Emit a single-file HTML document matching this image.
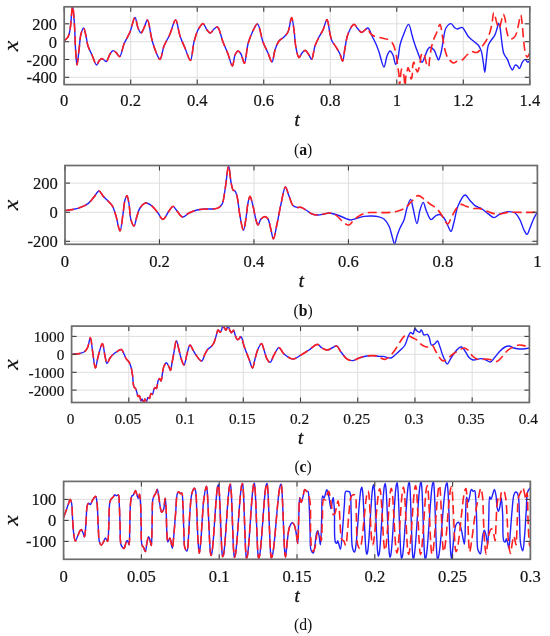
<!DOCTYPE html>
<html><head><meta charset="utf-8"><style>
html,body{margin:0;padding:0;background:#fff;}
body{width:550px;height:636px;overflow:hidden;}
svg{display:block;}
.tk{font-family:"Liberation Serif",serif;fill:#111;stroke:#111;stroke-width:0.18px;}
.lab{font-family:"Liberation Serif",serif;font-style:italic;font-size:18.5px;fill:#111;stroke:#111;stroke-width:0.35px;}
.labx{font-family:"Liberation Serif",serif;font-style:italic;font-size:20px;fill:#111;stroke:#111;stroke-width:0.18px;}
.cap{font-family:"Liberation Serif",serif;font-size:15.7px;fill:#111;}
</style></head><body>
<svg width="550" height="636" viewBox="0 0 550 636">
<rect width="550" height="636" fill="#fff"/>
<line x1="130.71" y1="6.8" x2="130.71" y2="84.6" stroke="#dedede" stroke-width="1"/>
<line x1="197.23" y1="6.8" x2="197.23" y2="84.6" stroke="#dedede" stroke-width="1"/>
<line x1="263.74" y1="6.8" x2="263.74" y2="84.6" stroke="#dedede" stroke-width="1"/>
<line x1="330.26" y1="6.8" x2="330.26" y2="84.6" stroke="#dedede" stroke-width="1"/>
<line x1="396.77" y1="6.8" x2="396.77" y2="84.6" stroke="#dedede" stroke-width="1"/>
<line x1="463.29" y1="6.8" x2="463.29" y2="84.6" stroke="#dedede" stroke-width="1"/>
<line x1="64.2" y1="23.8" x2="529.8" y2="23.8" stroke="#dedede" stroke-width="1"/>
<line x1="64.2" y1="41.7" x2="529.8" y2="41.7" stroke="#dedede" stroke-width="1"/>
<line x1="64.2" y1="59.5" x2="529.8" y2="59.5" stroke="#dedede" stroke-width="1"/>
<line x1="64.2" y1="77.3" x2="529.8" y2="77.3" stroke="#dedede" stroke-width="1"/>
<clipPath id="clipa"><rect x="64.2" y="6.8" width="465.59999999999997" height="77.8"/></clipPath>
<g clip-path="url(#clipa)" fill="none" stroke-linejoin="round">
<path d="M64.00,41.00C65.33,39.67 67.02,38.67 68.00,37.00C69.12,35.10 69.40,33.06 70.00,30.00C71.09,24.42 71.83,6.00 72.60,6.00C73.27,6.00 73.92,17.44 74.40,24.00C74.97,31.87 75.08,42.52 75.60,50.00C76.00,55.69 76.43,64.99 77.00,65.00C77.57,65.01 78.34,55.08 79.00,50.00C79.68,44.75 79.91,37.99 81.00,34.00C81.69,31.46 82.81,27.95 83.60,28.00C84.50,28.05 85.29,33.17 86.00,36.00C86.78,39.13 86.99,42.81 88.00,46.00C89.00,49.14 90.61,51.93 92.00,55.00C93.47,58.25 95.25,64.93 96.60,65.00C97.48,65.05 98.10,62.11 99.00,61.00C99.79,60.03 100.71,58.70 101.60,58.60C102.38,58.51 103.21,59.51 104.00,60.00C104.81,60.50 105.64,61.81 106.40,61.60C107.70,61.24 108.71,55.96 110.00,54.00C110.95,52.56 111.93,50.77 113.00,50.60C113.94,50.45 115.02,51.57 116.00,52.40C117.23,53.44 118.50,56.81 119.60,56.60C121.31,56.28 122.27,48.09 124.00,44.00C125.73,39.89 128.22,36.26 130.00,32.00C131.91,27.43 133.60,17.36 135.00,17.40C136.19,17.43 136.78,25.19 138.00,28.00C138.89,30.05 140.00,33.00 141.00,33.00C142.00,33.00 143.03,29.90 144.00,28.00C145.18,25.68 146.32,19.90 147.40,20.00C149.06,20.15 150.37,34.21 152.00,40.00C153.28,44.54 154.50,48.54 156.00,52.00C157.22,54.82 158.80,59.52 160.00,59.40C161.55,59.24 162.33,50.18 164.00,46.00C165.57,42.08 167.79,38.99 169.60,35.00C171.67,30.43 173.87,19.90 175.60,20.00C177.35,20.10 178.31,31.10 180.00,36.00C181.49,40.34 183.28,43.97 185.00,48.00C186.75,52.11 188.96,60.56 190.40,60.40C192.10,60.21 192.57,47.44 194.00,42.00C195.18,37.53 196.25,33.26 198.00,30.00C199.40,27.39 201.48,23.52 203.00,23.60C204.47,23.68 205.59,28.34 207.00,30.00C208.09,31.29 209.28,33.06 210.40,33.00C211.62,32.93 212.73,30.03 214.00,29.00C215.08,28.11 216.34,26.62 217.40,27.00C219.55,27.76 221.14,37.30 223.00,42.00C224.67,46.24 226.43,49.98 228.00,54.00C229.56,57.98 231.21,66.07 232.40,66.00C233.52,65.93 233.75,57.67 235.00,55.00C235.83,53.23 236.96,51.07 238.00,51.00C238.96,50.93 240.10,52.59 241.00,54.00C242.38,56.17 243.38,63.48 244.40,63.40C245.83,63.28 246.50,49.50 248.00,44.00C249.16,39.76 250.38,36.41 252.00,33.00C253.54,29.77 255.77,23.80 257.40,24.00C259.58,24.26 261.01,36.79 263.00,42.00C264.59,46.17 266.43,49.51 268.00,53.00C269.41,56.15 270.87,62.10 272.00,62.00C273.26,61.89 273.74,53.66 275.00,50.00C276.13,46.73 277.26,43.25 279.00,41.00C280.40,39.18 282.50,38.50 284.00,37.00C285.50,35.50 286.88,34.26 288.00,32.00C289.70,28.57 290.57,17.57 291.60,17.60C292.55,17.63 293.31,25.47 294.00,30.00C294.83,35.43 294.95,42.98 296.00,48.00C296.79,51.74 297.80,57.43 299.00,57.60C299.89,57.72 300.85,54.24 302.00,53.00C303.02,51.90 304.32,50.26 305.40,50.40C306.67,50.56 307.94,53.45 309.00,55.00C309.99,56.45 310.80,59.51 311.60,59.40C312.91,59.21 313.62,49.97 315.00,46.00C316.16,42.65 317.59,39.78 319.00,37.00C320.27,34.49 321.76,32.62 323.00,30.00C324.46,26.92 325.88,19.51 327.00,19.60C328.28,19.70 329.03,30.07 330.00,34.00C330.68,36.76 331.00,38.83 332.00,41.00C333.00,43.16 334.70,44.90 336.00,47.00C337.37,49.22 338.89,51.62 340.00,54.00C341.07,56.29 341.85,61.07 342.60,61.00C343.60,60.91 344.12,52.41 345.00,48.00C345.91,43.41 346.34,38.10 348.00,34.00C349.48,30.35 352.11,24.55 354.00,24.40C355.39,24.29 356.67,27.61 358.00,29.00C359.20,30.25 360.38,32.31 361.60,32.40C362.72,32.48 363.90,30.76 365.00,30.00C366.03,29.30 367.06,27.75 368.00,28.00C369.48,28.39 370.67,33.33 372.00,36.00C373.33,38.67 374.82,41.30 376.00,44.00C377.15,46.64 377.90,48.91 379.00,52.00C380.49,56.21 382.60,67.04 384.00,67.00C385.19,66.97 385.77,58.89 387.00,56.00C387.88,53.93 388.96,51.05 390.00,51.00C390.96,50.95 392.16,53.29 393.00,55.00C394.18,57.39 394.68,64.36 395.60,64.40C396.37,64.43 397.33,60.55 398.00,58.00C398.92,54.47 399.06,48.90 400.00,45.00C400.80,41.69 401.72,39.15 403.00,36.00C404.49,32.33 407.07,24.29 408.60,24.40C410.02,24.50 411.04,31.82 412.00,35.00C412.78,37.57 413.16,39.42 414.00,42.00C415.06,45.27 416.61,49.51 418.00,53.00C419.29,56.25 420.74,62.28 422.00,62.30C423.05,62.32 424.02,58.17 425.00,56.00C426.02,53.74 426.92,50.50 428.00,49.00C428.64,48.11 429.20,47.25 430.00,47.20C431.08,47.13 432.90,48.65 434.00,50.00C435.37,51.68 436.15,55.16 437.00,57.00C437.57,58.22 437.98,60.03 438.50,60.00C439.28,59.95 440.30,55.63 441.00,53.00C441.86,49.78 442.23,45.88 443.00,42.00C443.87,37.61 444.14,31.17 446.00,28.00C447.27,25.84 449.46,23.51 451.00,23.60C452.45,23.68 453.74,27.11 455.00,28.00C455.83,28.59 456.46,28.97 457.40,29.00C458.68,29.04 460.81,27.11 462.00,27.40C462.96,27.63 463.41,28.67 464.20,29.70C465.48,31.37 466.78,34.77 468.50,36.80C470.14,38.74 472.44,40.19 474.20,41.70C475.71,42.99 477.25,43.83 478.40,45.30C479.62,46.86 480.44,48.64 481.20,50.90C482.23,53.97 482.68,58.63 483.30,62.30C483.87,65.71 484.33,72.21 484.80,72.20C485.30,72.19 485.67,64.89 486.20,60.80C486.82,56.03 487.08,48.96 488.30,45.30C489.04,43.08 490.05,41.93 491.10,40.30C492.18,38.62 493.73,37.27 494.70,35.40C495.78,33.32 496.44,30.49 497.10,28.30C497.66,26.44 498.00,23.12 498.50,23.10C498.94,23.08 499.48,25.20 499.90,26.90C500.68,30.08 501.01,36.42 501.70,41.00C502.36,45.38 502.64,50.50 503.90,53.80C504.80,56.16 506.38,57.37 507.40,59.40C508.50,61.58 509.23,64.58 510.20,66.50C510.91,67.91 511.64,70.02 512.40,70.00C513.29,69.98 514.15,65.50 515.20,65.10C515.86,64.85 516.66,65.34 517.30,65.80C518.10,66.38 518.71,68.67 519.40,68.60C520.38,68.50 521.19,63.93 522.30,62.30C523.15,61.06 524.17,59.40 525.10,59.40C526.03,59.40 527.04,62.31 527.90,62.30C528.66,62.29 529.30,60.77 530.00,60.00" stroke="#1f1fff" stroke-width="1.4"/>
<path d="M64.00,41.00C65.33,39.67 67.02,38.67 68.00,37.00C69.12,35.10 69.40,33.06 70.00,30.00C71.09,24.42 71.83,6.00 72.60,6.00C73.27,6.00 73.92,17.44 74.40,24.00C74.97,31.87 75.08,42.52 75.60,50.00C76.00,55.69 76.43,64.99 77.00,65.00C77.57,65.01 78.34,55.08 79.00,50.00C79.68,44.75 79.91,37.99 81.00,34.00C81.69,31.46 82.81,27.95 83.60,28.00C84.50,28.05 85.29,33.17 86.00,36.00C86.78,39.13 86.99,42.81 88.00,46.00C89.00,49.14 90.61,51.93 92.00,55.00C93.47,58.25 95.25,64.93 96.60,65.00C97.48,65.05 98.10,62.11 99.00,61.00C99.79,60.03 100.71,58.70 101.60,58.60C102.38,58.51 103.21,59.51 104.00,60.00C104.81,60.50 105.64,61.81 106.40,61.60C107.70,61.24 108.71,55.96 110.00,54.00C110.95,52.56 111.93,50.77 113.00,50.60C113.94,50.45 115.02,51.57 116.00,52.40C117.23,53.44 118.50,56.81 119.60,56.60C121.31,56.28 122.27,48.09 124.00,44.00C125.73,39.89 128.22,36.26 130.00,32.00C131.91,27.43 133.60,17.36 135.00,17.40C136.19,17.43 136.78,25.19 138.00,28.00C138.89,30.05 140.00,33.00 141.00,33.00C142.00,33.00 143.03,29.90 144.00,28.00C145.18,25.68 146.32,19.90 147.40,20.00C149.06,20.15 150.37,34.21 152.00,40.00C153.28,44.54 154.50,48.54 156.00,52.00C157.22,54.82 158.80,59.52 160.00,59.40C161.55,59.24 162.33,50.18 164.00,46.00C165.57,42.08 167.79,38.99 169.60,35.00C171.67,30.43 173.87,19.90 175.60,20.00C177.35,20.10 178.31,31.10 180.00,36.00C181.49,40.34 183.28,43.97 185.00,48.00C186.75,52.11 188.96,60.56 190.40,60.40C192.10,60.21 192.57,47.44 194.00,42.00C195.18,37.53 196.25,33.26 198.00,30.00C199.40,27.39 201.48,23.52 203.00,23.60C204.47,23.68 205.59,28.34 207.00,30.00C208.09,31.29 209.28,33.06 210.40,33.00C211.62,32.93 212.73,30.03 214.00,29.00C215.08,28.11 216.34,26.62 217.40,27.00C219.55,27.76 221.14,37.30 223.00,42.00C224.67,46.24 226.43,49.98 228.00,54.00C229.56,57.98 231.21,66.07 232.40,66.00C233.52,65.93 233.75,57.67 235.00,55.00C235.83,53.23 236.96,51.07 238.00,51.00C238.96,50.93 240.10,52.59 241.00,54.00C242.38,56.17 243.38,63.48 244.40,63.40C245.83,63.28 246.50,49.50 248.00,44.00C249.16,39.76 250.38,36.41 252.00,33.00C253.54,29.77 255.77,23.80 257.40,24.00C259.58,24.26 261.01,36.79 263.00,42.00C264.59,46.17 266.43,49.51 268.00,53.00C269.41,56.15 270.87,62.10 272.00,62.00C273.26,61.89 273.74,53.66 275.00,50.00C276.13,46.73 277.26,43.25 279.00,41.00C280.40,39.18 282.50,38.50 284.00,37.00C285.50,35.50 286.88,34.26 288.00,32.00C289.70,28.57 290.57,17.57 291.60,17.60C292.55,17.63 293.31,25.47 294.00,30.00C294.83,35.43 294.95,42.98 296.00,48.00C296.79,51.74 297.80,57.43 299.00,57.60C299.89,57.72 300.85,54.24 302.00,53.00C303.02,51.90 304.32,50.26 305.40,50.40C306.67,50.56 307.94,53.45 309.00,55.00C309.99,56.45 310.80,59.51 311.60,59.40C312.91,59.21 313.62,49.97 315.00,46.00C316.16,42.65 317.59,39.78 319.00,37.00C320.27,34.49 321.76,32.62 323.00,30.00C324.46,26.92 325.88,19.51 327.00,19.60C328.28,19.70 329.03,30.07 330.00,34.00C330.68,36.76 331.00,38.83 332.00,41.00C333.00,43.16 334.70,44.90 336.00,47.00C337.37,49.22 338.89,51.62 340.00,54.00C341.07,56.29 341.85,61.07 342.60,61.00C343.60,60.91 344.12,52.41 345.00,48.00C345.91,43.41 346.34,38.10 348.00,34.00C349.48,30.35 352.11,24.55 354.00,24.40C355.39,24.29 356.67,27.61 358.00,29.00C359.20,30.25 360.38,32.31 361.60,32.40C362.72,32.48 363.90,30.76 365.00,30.00C366.03,29.30 367.20,27.75 368.00,28.00C368.97,28.30 368.90,31.60 370.00,33.00C371.17,34.50 373.09,35.77 375.00,36.60C377.05,37.49 379.68,37.44 382.00,38.00C384.34,38.57 387.10,38.88 389.00,40.00C390.67,40.98 391.95,42.28 393.00,44.00C394.28,46.09 394.93,49.31 395.60,52.00C396.26,54.64 396.60,57.33 397.00,60.00C397.40,62.66 397.65,65.42 398.00,68.00C398.32,70.41 398.76,72.40 399.00,75.00C399.31,78.25 399.23,85.99 399.50,86.00C399.75,86.01 400.16,79.91 400.50,77.00C400.82,74.25 401.09,69.02 401.50,69.00C401.79,68.98 402.02,72.15 402.50,73.00C402.78,73.50 403.21,73.40 403.50,74.00C404.35,75.75 404.58,86.01 405.00,86.00C405.40,85.99 405.48,77.50 406.00,75.00C406.28,73.66 406.69,73.11 407.00,72.00C407.37,70.66 407.61,67.53 408.00,67.50C408.30,67.48 408.65,69.22 409.00,70.00C409.32,70.71 409.72,71.10 410.00,72.00C410.50,73.60 410.50,78.92 411.00,79.00C411.28,79.05 411.72,78.00 412.00,77.00C412.67,74.59 412.33,66.41 413.00,64.00C413.28,63.00 413.72,61.96 414.00,62.00C414.47,62.07 414.39,66.59 415.00,68.00C415.39,68.91 416.08,69.31 416.50,70.00C416.90,70.65 417.15,72.02 417.50,72.00C417.98,71.97 418.58,69.35 419.00,68.00C419.41,66.68 419.71,65.57 420.00,64.00C420.41,61.80 420.40,57.99 421.00,56.00C421.39,54.72 421.89,53.16 422.50,53.00C422.94,52.88 423.58,53.40 424.00,54.00C424.78,55.10 424.98,58.10 425.50,60.00C425.98,61.75 426.37,63.75 427.00,65.00C427.44,65.87 428.11,67.10 428.50,67.00C429.15,66.83 429.17,62.33 429.50,60.00C429.83,57.67 430.15,55.24 430.50,53.00C430.82,50.92 431.03,49.06 431.50,47.00C432.01,44.74 432.68,42.31 433.50,40.00C434.34,37.64 435.47,35.46 436.50,33.00C437.63,30.29 439.05,24.31 440.00,24.40C441.07,24.50 441.60,31.95 442.40,36.00C443.27,40.44 443.89,46.02 445.00,50.00C445.86,53.08 446.50,55.79 448.00,58.00C449.40,60.06 451.79,62.75 453.50,63.00C454.73,63.18 455.70,61.78 457.00,61.30C458.49,60.75 460.44,60.89 462.00,60.00C463.82,58.96 465.27,56.45 467.00,55.00C468.61,53.65 470.49,51.72 472.00,51.50C473.08,51.34 473.99,52.42 475.00,52.50C475.99,52.58 477.04,52.59 478.00,52.00C479.43,51.12 480.67,48.33 482.00,46.50C483.33,44.67 484.83,42.92 486.00,41.00C487.16,39.09 488.13,37.25 489.00,35.00C490.02,32.35 490.90,28.74 491.50,26.00C491.99,23.76 492.15,21.94 492.50,19.80C492.88,17.51 493.16,12.75 493.70,12.70C494.09,12.66 494.64,14.85 495.10,16.30C495.77,18.39 496.36,21.92 497.10,24.10C497.66,25.74 498.30,28.32 498.90,28.30C499.60,28.28 500.34,24.70 501.00,22.60C501.79,20.09 502.41,14.26 503.20,14.20C503.77,14.16 504.50,16.58 505.00,18.40C505.84,21.45 505.90,27.62 506.70,31.10C507.28,33.63 507.70,36.23 508.80,37.50C509.55,38.37 510.64,39.00 511.60,38.90C512.76,38.79 514.23,37.51 515.20,36.10C516.61,34.05 517.12,30.19 518.00,26.90C519.00,23.18 520.07,14.87 520.80,14.90C521.48,14.93 521.85,21.63 522.30,25.50C522.84,30.17 523.18,36.33 523.70,41.00C524.13,44.87 524.37,48.64 525.10,51.60C525.65,53.83 526.42,57.23 527.20,57.30C527.84,57.36 528.67,55.01 529.30,53.80C529.94,52.58 530.43,51.27 531.00,50.00" stroke="#ff1f1f" stroke-width="1.6" stroke-dasharray="9,4.5"/>
</g>
<line x1="64.20" y1="84.6" x2="64.20" y2="79.6" stroke="#3c3c3c" stroke-width="1.1"/>
<line x1="64.20" y1="6.8" x2="64.20" y2="11.8" stroke="#3c3c3c" stroke-width="1.1"/>
<line x1="130.71" y1="84.6" x2="130.71" y2="79.6" stroke="#3c3c3c" stroke-width="1.1"/>
<line x1="130.71" y1="6.8" x2="130.71" y2="11.8" stroke="#3c3c3c" stroke-width="1.1"/>
<line x1="197.23" y1="84.6" x2="197.23" y2="79.6" stroke="#3c3c3c" stroke-width="1.1"/>
<line x1="197.23" y1="6.8" x2="197.23" y2="11.8" stroke="#3c3c3c" stroke-width="1.1"/>
<line x1="263.74" y1="84.6" x2="263.74" y2="79.6" stroke="#3c3c3c" stroke-width="1.1"/>
<line x1="263.74" y1="6.8" x2="263.74" y2="11.8" stroke="#3c3c3c" stroke-width="1.1"/>
<line x1="330.26" y1="84.6" x2="330.26" y2="79.6" stroke="#3c3c3c" stroke-width="1.1"/>
<line x1="330.26" y1="6.8" x2="330.26" y2="11.8" stroke="#3c3c3c" stroke-width="1.1"/>
<line x1="396.77" y1="84.6" x2="396.77" y2="79.6" stroke="#3c3c3c" stroke-width="1.1"/>
<line x1="396.77" y1="6.8" x2="396.77" y2="11.8" stroke="#3c3c3c" stroke-width="1.1"/>
<line x1="463.29" y1="84.6" x2="463.29" y2="79.6" stroke="#3c3c3c" stroke-width="1.1"/>
<line x1="463.29" y1="6.8" x2="463.29" y2="11.8" stroke="#3c3c3c" stroke-width="1.1"/>
<line x1="529.80" y1="84.6" x2="529.80" y2="79.6" stroke="#3c3c3c" stroke-width="1.1"/>
<line x1="529.80" y1="6.8" x2="529.80" y2="11.8" stroke="#3c3c3c" stroke-width="1.1"/>
<line x1="64.2" y1="23.8" x2="69.2" y2="23.8" stroke="#3c3c3c" stroke-width="1.1"/>
<line x1="529.8" y1="23.8" x2="524.8" y2="23.8" stroke="#3c3c3c" stroke-width="1.1"/>
<line x1="64.2" y1="41.7" x2="69.2" y2="41.7" stroke="#3c3c3c" stroke-width="1.1"/>
<line x1="529.8" y1="41.7" x2="524.8" y2="41.7" stroke="#3c3c3c" stroke-width="1.1"/>
<line x1="64.2" y1="59.5" x2="69.2" y2="59.5" stroke="#3c3c3c" stroke-width="1.1"/>
<line x1="529.8" y1="59.5" x2="524.8" y2="59.5" stroke="#3c3c3c" stroke-width="1.1"/>
<line x1="64.2" y1="77.3" x2="69.2" y2="77.3" stroke="#3c3c3c" stroke-width="1.1"/>
<line x1="529.8" y1="77.3" x2="524.8" y2="77.3" stroke="#3c3c3c" stroke-width="1.1"/>
<rect x="64.2" y="6.8" width="465.60" height="77.80" fill="none" stroke="#6c6c6c" stroke-width="1.7"/>
<text transform="translate(64.20,106.40) scale(1.05,1)" font-size="15.8" class="tk" text-anchor="middle">0</text>
<text transform="translate(130.71,106.40) scale(1.05,1)" font-size="15.8" class="tk" text-anchor="middle">0.2</text>
<text transform="translate(197.23,106.40) scale(1.05,1)" font-size="15.8" class="tk" text-anchor="middle">0.4</text>
<text transform="translate(263.74,106.40) scale(1.05,1)" font-size="15.8" class="tk" text-anchor="middle">0.6</text>
<text transform="translate(330.26,106.40) scale(1.05,1)" font-size="15.8" class="tk" text-anchor="middle">0.8</text>
<text transform="translate(396.77,106.40) scale(1.05,1)" font-size="15.8" class="tk" text-anchor="middle">1</text>
<text transform="translate(463.29,106.40) scale(1.05,1)" font-size="15.8" class="tk" text-anchor="middle">1.2</text>
<text transform="translate(529.80,106.40) scale(1.05,1)" font-size="15.8" class="tk" text-anchor="middle">1.4</text>
<text transform="translate(57.00,29.80) scale(1.05,1)" font-size="15.8" class="tk" text-anchor="end">200</text>
<text transform="translate(57.00,47.70) scale(1.05,1)" font-size="15.8" class="tk" text-anchor="end">0</text>
<text transform="translate(57.00,65.50) scale(1.05,1)" font-size="15.8" class="tk" text-anchor="end">-200</text>
<text transform="translate(57.00,83.30) scale(1.05,1)" font-size="15.8" class="tk" text-anchor="end">-400</text>
<text x="297.00" y="126.3" class="lab" text-anchor="middle">t</text>
<text transform="translate(18.00,45.8) rotate(-90) scale(1.2,1)" class="labx" text-anchor="middle">x</text>
<text x="303.1" y="154.6" class="cap" text-anchor="middle">(<tspan font-weight="bold">a</tspan>)</text>
<line x1="159.48" y1="165.5" x2="159.48" y2="244.3" stroke="#dedede" stroke-width="1"/>
<line x1="253.96" y1="165.5" x2="253.96" y2="244.3" stroke="#dedede" stroke-width="1"/>
<line x1="348.44" y1="165.5" x2="348.44" y2="244.3" stroke="#dedede" stroke-width="1"/>
<line x1="442.92" y1="165.5" x2="442.92" y2="244.3" stroke="#dedede" stroke-width="1"/>
<line x1="65.0" y1="183.1" x2="537.4" y2="183.1" stroke="#dedede" stroke-width="1"/>
<line x1="65.0" y1="212.3" x2="537.4" y2="212.3" stroke="#dedede" stroke-width="1"/>
<line x1="65.0" y1="241.3" x2="537.4" y2="241.3" stroke="#dedede" stroke-width="1"/>
<clipPath id="clipb"><rect x="65.0" y="165.5" width="472.4" height="78.80000000000001"/></clipPath>
<g clip-path="url(#clipb)" fill="none" stroke-linejoin="round">
<path d="M65.00,210.60C67.33,210.27 69.60,210.07 72.00,209.60C74.59,209.09 77.39,208.57 80.00,207.60C82.72,206.59 85.67,205.37 88.00,203.60C90.33,201.83 92.11,199.17 94.00,197.00C95.77,194.97 97.44,190.98 99.00,191.00C100.42,191.01 101.54,194.37 103.00,196.00C104.53,197.71 106.41,199.31 108.00,201.00C109.54,202.64 111.16,203.90 112.40,206.00C113.96,208.65 114.84,212.30 116.00,216.00C117.40,220.47 118.85,231.05 120.00,231.00C121.21,230.95 122.14,219.40 123.00,214.00C123.78,209.11 124.03,203.30 125.00,200.00C125.56,198.07 126.41,195.54 127.00,195.60C127.80,195.68 128.41,200.73 129.00,204.00C129.81,208.46 129.80,216.02 131.00,220.00C131.78,222.56 133.09,226.08 134.00,226.00C135.14,225.90 135.94,219.13 137.00,216.00C137.95,213.17 138.49,210.21 140.00,208.00C141.42,205.93 143.56,203.30 145.60,203.00C147.57,202.71 150.05,204.51 152.00,206.00C154.23,207.70 156.12,210.70 158.00,213.00C159.77,215.16 161.28,219.44 163.00,219.40C164.94,219.36 167.15,213.34 169.00,211.00C170.42,209.20 171.67,206.40 173.00,206.40C174.33,206.40 175.54,209.38 177.00,211.00C178.70,212.88 180.55,216.73 182.60,217.00C184.57,217.26 186.69,214.14 189.00,213.00C191.46,211.78 194.29,210.67 197.00,210.00C199.63,209.35 202.33,209.17 205.00,209.00C207.66,208.83 210.66,209.23 213.00,209.00C214.87,208.81 216.52,208.75 218.00,208.00C219.53,207.23 220.94,206.24 222.00,204.40C223.75,201.35 224.03,195.43 225.00,190.00C226.25,183.03 227.52,166.00 228.60,166.00C229.48,166.00 230.12,177.60 231.00,182.00C231.63,185.14 231.93,188.67 233.00,190.00C233.56,190.69 234.43,190.38 235.00,191.00C235.89,191.97 236.38,193.73 237.00,196.00C238.19,200.40 238.82,209.90 240.00,216.00C241.01,221.22 242.37,230.41 243.40,230.40C244.35,230.39 245.26,222.34 246.00,218.00C246.81,213.25 247.14,206.96 248.00,203.00C248.58,200.33 249.26,196.40 250.00,196.40C250.89,196.40 252.07,202.48 253.00,206.00C254.11,210.20 254.95,216.54 256.00,220.00C256.65,222.12 257.22,224.97 258.00,225.00C258.87,225.04 259.67,220.43 261.00,219.00C262.11,217.81 263.79,216.52 265.00,216.60C266.10,216.67 267.15,217.71 268.00,219.00C269.46,221.22 270.06,226.52 271.00,230.00C271.85,233.15 272.54,239.01 273.40,239.00C274.50,238.99 275.82,229.37 277.00,224.00C278.36,217.82 279.54,210.38 281.00,204.00C282.36,198.08 283.85,187.10 285.40,187.00C286.55,186.93 287.76,192.96 289.00,196.00C290.29,199.15 291.23,203.78 293.00,205.60C294.15,206.78 295.63,207.11 297.00,207.40C298.30,207.68 299.63,207.07 301.00,207.40C302.62,207.80 304.29,208.99 306.00,210.00C307.94,211.15 309.91,213.17 312.00,214.00C313.92,214.76 316.00,215.00 318.00,215.00C320.00,215.00 322.09,214.35 324.00,214.00C325.75,213.68 327.33,213.00 329.00,213.00C330.67,213.00 332.27,213.54 334.00,214.00C335.92,214.51 338.02,215.24 340.00,216.00C342.02,216.77 344.07,217.91 346.00,218.60C347.72,219.21 349.33,220.00 351.00,220.00C352.67,220.00 354.14,219.12 356.00,218.60C358.35,217.95 361.31,216.83 364.00,216.40C366.64,215.98 369.53,215.94 372.00,216.00C374.15,216.05 376.03,216.12 378.00,216.60C380.04,217.10 382.26,217.63 384.00,219.00C386.01,220.58 387.69,223.34 389.00,226.00C390.44,228.93 391.02,232.86 392.00,236.00C392.88,238.82 393.77,244.01 394.60,244.00C395.43,243.99 396.11,238.65 397.00,236.00C397.90,233.32 398.85,230.64 400.00,228.00C401.18,225.30 402.89,223.00 404.00,220.00C405.31,216.47 405.80,211.63 407.00,208.00C408.05,204.85 409.59,199.34 410.60,199.40C411.59,199.46 412.12,204.70 413.00,208.00C414.18,212.43 415.80,223.62 417.00,223.60C418.12,223.58 418.78,213.83 420.00,210.00C420.94,207.05 422.16,202.38 423.20,202.40C424.30,202.42 425.13,208.18 426.40,211.00C427.71,213.91 429.18,219.23 431.00,219.60C432.48,219.90 434.34,216.45 436.00,215.60C437.34,214.92 438.74,214.21 440.00,214.50C441.43,214.83 442.80,216.45 444.00,218.00C445.56,220.02 446.74,223.61 448.00,226.00C449.05,227.99 450.09,231.49 451.00,231.40C452.15,231.29 452.99,225.57 454.00,222.00C455.31,217.39 455.98,210.69 458.00,206.00C459.79,201.83 462.74,195.19 465.00,195.00C466.71,194.85 468.32,198.72 470.00,200.50C471.65,202.25 473.06,204.20 475.00,205.60C477.03,207.06 479.82,207.65 482.00,209.00C484.15,210.33 485.98,212.15 488.00,213.60C489.98,215.01 491.98,217.55 494.00,217.60C495.99,217.65 497.79,214.98 500.00,214.00C502.42,212.93 505.41,211.72 508.00,211.60C510.40,211.49 513.06,211.74 515.00,213.00C517.13,214.38 518.56,217.36 520.00,220.00C521.61,222.95 522.61,227.40 524.00,230.00C524.97,231.83 526.06,234.48 527.00,234.40C528.08,234.31 528.96,230.39 530.00,228.00C531.28,225.05 532.56,220.99 534.00,218.00C535.25,215.41 536.67,213.33 538.00,211.00" stroke="#1f1fff" stroke-width="1.4"/>
<path d="M65.00,210.60C67.33,210.27 69.60,210.07 72.00,209.60C74.59,209.09 77.39,208.57 80.00,207.60C82.72,206.59 85.67,205.37 88.00,203.60C90.33,201.83 92.11,199.17 94.00,197.00C95.77,194.97 97.44,190.98 99.00,191.00C100.42,191.01 101.54,194.37 103.00,196.00C104.53,197.71 106.41,199.31 108.00,201.00C109.54,202.64 111.16,203.90 112.40,206.00C113.96,208.65 114.84,212.30 116.00,216.00C117.40,220.47 118.85,231.05 120.00,231.00C121.21,230.95 122.14,219.40 123.00,214.00C123.78,209.11 124.03,203.30 125.00,200.00C125.56,198.07 126.41,195.54 127.00,195.60C127.80,195.68 128.41,200.73 129.00,204.00C129.81,208.46 129.80,216.02 131.00,220.00C131.78,222.56 133.09,226.08 134.00,226.00C135.14,225.90 135.94,219.13 137.00,216.00C137.95,213.17 138.49,210.21 140.00,208.00C141.42,205.93 143.56,203.30 145.60,203.00C147.57,202.71 150.05,204.51 152.00,206.00C154.23,207.70 156.12,210.70 158.00,213.00C159.77,215.16 161.28,219.44 163.00,219.40C164.94,219.36 167.15,213.34 169.00,211.00C170.42,209.20 171.67,206.40 173.00,206.40C174.33,206.40 175.54,209.38 177.00,211.00C178.70,212.88 180.55,216.73 182.60,217.00C184.57,217.26 186.69,214.14 189.00,213.00C191.46,211.78 194.29,210.67 197.00,210.00C199.63,209.35 202.33,209.17 205.00,209.00C207.66,208.83 210.66,209.23 213.00,209.00C214.87,208.81 216.52,208.75 218.00,208.00C219.53,207.23 220.94,206.24 222.00,204.40C223.75,201.35 224.03,195.43 225.00,190.00C226.25,183.03 227.52,166.00 228.60,166.00C229.48,166.00 230.12,177.60 231.00,182.00C231.63,185.14 231.93,188.67 233.00,190.00C233.56,190.69 234.43,190.38 235.00,191.00C235.89,191.97 236.38,193.73 237.00,196.00C238.19,200.40 238.82,209.90 240.00,216.00C241.01,221.22 242.37,230.41 243.40,230.40C244.35,230.39 245.26,222.34 246.00,218.00C246.81,213.25 247.14,206.96 248.00,203.00C248.58,200.33 249.26,196.40 250.00,196.40C250.89,196.40 252.07,202.48 253.00,206.00C254.11,210.20 254.95,216.54 256.00,220.00C256.65,222.12 257.22,224.97 258.00,225.00C258.87,225.04 259.67,220.43 261.00,219.00C262.11,217.81 263.79,216.52 265.00,216.60C266.10,216.67 267.15,217.71 268.00,219.00C269.46,221.22 270.06,226.52 271.00,230.00C271.85,233.15 272.54,239.01 273.40,239.00C274.50,238.99 275.82,229.37 277.00,224.00C278.36,217.82 279.54,210.38 281.00,204.00C282.36,198.08 283.85,187.10 285.40,187.00C286.55,186.93 287.76,192.96 289.00,196.00C290.29,199.15 291.23,203.78 293.00,205.60C294.15,206.78 295.63,207.11 297.00,207.40C298.30,207.68 299.63,207.07 301.00,207.40C302.62,207.80 304.29,208.99 306.00,210.00C307.94,211.15 309.91,213.17 312.00,214.00C313.92,214.76 316.00,215.00 318.00,215.00C320.00,215.00 322.09,214.35 324.00,214.00C325.75,213.68 327.33,213.00 329.00,213.00C330.67,213.00 332.59,213.42 334.00,214.00C335.18,214.49 335.97,215.16 337.00,216.00C338.29,217.06 339.65,218.72 341.00,220.00C342.32,221.25 343.58,222.76 345.00,223.60C346.26,224.35 347.75,225.29 349.00,225.00C350.44,224.67 351.57,222.34 353.00,221.00C354.55,219.54 356.17,217.83 358.00,216.60C359.84,215.36 361.95,214.28 364.00,213.60C365.95,212.95 367.74,212.69 370.00,212.50C372.90,212.25 376.67,212.62 380.00,212.60C383.33,212.58 386.86,212.70 390.00,212.40C392.83,212.13 395.46,211.75 398.00,211.00C400.46,210.27 402.80,209.49 405.00,208.00C407.51,206.30 409.73,203.15 412.00,201.00C414.05,199.05 415.91,195.83 418.00,195.60C419.93,195.39 422.06,197.66 424.00,199.00C426.07,200.43 427.96,202.48 430.00,204.00C431.96,205.46 434.20,206.38 436.00,208.00C437.88,209.69 439.51,211.85 441.00,214.00C442.51,216.18 443.68,219.21 445.00,221.00C445.94,222.28 446.86,224.13 447.80,224.00C449.19,223.81 450.50,218.68 452.00,216.00C453.56,213.21 455.23,209.63 457.00,207.60C458.28,206.13 459.52,204.65 461.00,204.40C462.51,204.15 464.19,205.59 466.00,206.20C468.13,206.92 470.64,208.00 473.00,208.40C475.31,208.79 477.63,208.13 480.00,208.60C482.62,209.11 485.52,210.72 488.00,211.60C490.14,212.36 491.97,213.20 494.00,213.60C495.98,213.99 497.87,214.14 500.00,214.00C502.49,213.84 505.05,212.69 508.00,212.40C511.58,212.05 515.60,212.40 520.00,212.40C525.39,212.40 532.00,212.40 538.00,212.40" stroke="#ff1f1f" stroke-width="1.6" stroke-dasharray="9,4.5"/>
</g>
<line x1="65.00" y1="244.3" x2="65.00" y2="239.3" stroke="#3c3c3c" stroke-width="1.1"/>
<line x1="65.00" y1="165.5" x2="65.00" y2="170.5" stroke="#3c3c3c" stroke-width="1.1"/>
<line x1="159.48" y1="244.3" x2="159.48" y2="239.3" stroke="#3c3c3c" stroke-width="1.1"/>
<line x1="159.48" y1="165.5" x2="159.48" y2="170.5" stroke="#3c3c3c" stroke-width="1.1"/>
<line x1="253.96" y1="244.3" x2="253.96" y2="239.3" stroke="#3c3c3c" stroke-width="1.1"/>
<line x1="253.96" y1="165.5" x2="253.96" y2="170.5" stroke="#3c3c3c" stroke-width="1.1"/>
<line x1="348.44" y1="244.3" x2="348.44" y2="239.3" stroke="#3c3c3c" stroke-width="1.1"/>
<line x1="348.44" y1="165.5" x2="348.44" y2="170.5" stroke="#3c3c3c" stroke-width="1.1"/>
<line x1="442.92" y1="244.3" x2="442.92" y2="239.3" stroke="#3c3c3c" stroke-width="1.1"/>
<line x1="442.92" y1="165.5" x2="442.92" y2="170.5" stroke="#3c3c3c" stroke-width="1.1"/>
<line x1="537.40" y1="244.3" x2="537.40" y2="239.3" stroke="#3c3c3c" stroke-width="1.1"/>
<line x1="537.40" y1="165.5" x2="537.40" y2="170.5" stroke="#3c3c3c" stroke-width="1.1"/>
<line x1="65.0" y1="183.1" x2="70.0" y2="183.1" stroke="#3c3c3c" stroke-width="1.1"/>
<line x1="537.4" y1="183.1" x2="532.4" y2="183.1" stroke="#3c3c3c" stroke-width="1.1"/>
<line x1="65.0" y1="212.3" x2="70.0" y2="212.3" stroke="#3c3c3c" stroke-width="1.1"/>
<line x1="537.4" y1="212.3" x2="532.4" y2="212.3" stroke="#3c3c3c" stroke-width="1.1"/>
<line x1="65.0" y1="241.3" x2="70.0" y2="241.3" stroke="#3c3c3c" stroke-width="1.1"/>
<line x1="537.4" y1="241.3" x2="532.4" y2="241.3" stroke="#3c3c3c" stroke-width="1.1"/>
<rect x="65.0" y="165.5" width="472.40" height="78.80" fill="none" stroke="#6c6c6c" stroke-width="1.7"/>
<text transform="translate(65.00,267.20) scale(1.05,1)" font-size="15.8" class="tk" text-anchor="middle">0</text>
<text transform="translate(159.48,267.20) scale(1.05,1)" font-size="15.8" class="tk" text-anchor="middle">0.2</text>
<text transform="translate(253.96,267.20) scale(1.05,1)" font-size="15.8" class="tk" text-anchor="middle">0.4</text>
<text transform="translate(348.44,267.20) scale(1.05,1)" font-size="15.8" class="tk" text-anchor="middle">0.6</text>
<text transform="translate(442.92,267.20) scale(1.05,1)" font-size="15.8" class="tk" text-anchor="middle">0.8</text>
<text transform="translate(537.40,267.20) scale(1.05,1)" font-size="15.8" class="tk" text-anchor="middle">1</text>
<text transform="translate(57.80,189.10) scale(1.05,1)" font-size="15.8" class="tk" text-anchor="end">200</text>
<text transform="translate(57.80,218.30) scale(1.05,1)" font-size="15.8" class="tk" text-anchor="end">0</text>
<text transform="translate(57.80,247.30) scale(1.05,1)" font-size="15.8" class="tk" text-anchor="end">-200</text>
<text x="301.20" y="287.4" class="lab" text-anchor="middle">t</text>
<text transform="translate(18.00,205) rotate(-90) scale(1.2,1)" class="labx" text-anchor="middle">x</text>
<text x="303.1" y="315.6" class="cap" text-anchor="middle">(<tspan font-weight="bold">b</tspan>)</text>
<line x1="128.82" y1="326.1" x2="128.82" y2="402.5" stroke="#dedede" stroke-width="1"/>
<line x1="186.05" y1="326.1" x2="186.05" y2="402.5" stroke="#dedede" stroke-width="1"/>
<line x1="243.27" y1="326.1" x2="243.27" y2="402.5" stroke="#dedede" stroke-width="1"/>
<line x1="300.50" y1="326.1" x2="300.50" y2="402.5" stroke="#dedede" stroke-width="1"/>
<line x1="357.73" y1="326.1" x2="357.73" y2="402.5" stroke="#dedede" stroke-width="1"/>
<line x1="414.95" y1="326.1" x2="414.95" y2="402.5" stroke="#dedede" stroke-width="1"/>
<line x1="472.17" y1="326.1" x2="472.17" y2="402.5" stroke="#dedede" stroke-width="1"/>
<line x1="71.6" y1="336.4" x2="529.4" y2="336.4" stroke="#dedede" stroke-width="1"/>
<line x1="71.6" y1="354.3" x2="529.4" y2="354.3" stroke="#dedede" stroke-width="1"/>
<line x1="71.6" y1="372.3" x2="529.4" y2="372.3" stroke="#dedede" stroke-width="1"/>
<line x1="71.6" y1="390.1" x2="529.4" y2="390.1" stroke="#dedede" stroke-width="1"/>
<clipPath id="clipc"><rect x="71.6" y="326.1" width="457.79999999999995" height="76.39999999999998"/></clipPath>
<g clip-path="url(#clipc)" fill="none" stroke-linejoin="round">
<path d="M71.60,354.40C74.07,354.13 76.80,354.07 79.00,353.60C80.85,353.21 82.60,352.93 84.00,352.00C85.40,351.07 86.45,349.78 87.40,348.00C88.77,345.45 89.58,337.55 90.40,337.60C91.28,337.65 91.66,345.48 92.40,350.00C93.29,355.44 94.34,367.96 95.40,368.00C96.23,368.03 96.92,360.82 98.00,357.00C99.20,352.73 101.22,343.53 102.40,343.60C103.52,343.66 104.14,352.38 105.00,356.00C105.67,358.85 106.10,363.49 107.00,363.60C107.81,363.70 108.91,359.61 110.00,358.00C110.93,356.61 111.85,355.46 113.00,354.40C114.18,353.32 115.60,352.40 117.00,351.60C118.40,350.80 120.24,349.23 121.40,349.60C122.59,349.98 123.23,352.50 124.00,354.00C124.76,355.47 125.15,357.15 126.00,358.50C126.83,359.81 128.18,360.65 129.00,362.00C129.88,363.46 130.45,365.11 131.00,367.00C131.68,369.33 132.04,372.06 132.50,375.00C133.06,378.59 133.01,384.98 134.00,387.00C134.41,387.85 135.07,387.80 135.50,388.50C136.15,389.55 136.56,391.59 137.00,393.00C137.38,394.24 137.54,396.38 138.00,396.50C138.29,396.57 138.68,395.47 139.00,395.50C139.36,395.54 139.71,396.35 140.00,397.00C140.44,397.99 140.60,400.96 141.00,401.00C141.30,401.03 141.65,398.99 142.00,399.00C142.46,399.01 143.00,402.50 143.50,402.50C144.00,402.50 144.46,399.04 145.00,399.00C145.47,398.97 146.04,401.54 146.50,401.50C147.06,401.45 147.34,397.71 148.00,397.50C148.43,397.36 149.08,398.65 149.50,398.50C150.22,398.24 150.28,393.76 151.00,393.50C151.42,393.35 152.08,394.66 152.50,394.50C153.25,394.22 153.44,390.23 154.00,389.00C154.31,388.31 154.58,387.58 155.00,387.50C155.42,387.42 156.08,388.67 156.50,388.50C157.36,388.15 157.31,382.79 158.00,381.00C158.43,379.90 159.00,378.50 159.50,378.50C160.00,378.50 160.58,381.08 161.00,381.00C161.71,380.87 161.98,375.57 162.50,373.00C162.98,370.59 163.15,367.81 164.00,366.00C164.64,364.64 165.70,362.75 166.50,362.80C167.38,362.86 168.31,365.64 169.00,367.00C169.61,368.20 170.06,370.55 170.50,370.50C171.12,370.44 171.51,365.54 172.00,363.00C172.51,360.38 172.91,358.05 173.50,355.00C174.30,350.90 175.38,340.64 176.40,340.60C177.23,340.57 178.15,346.81 179.00,350.00C179.88,353.28 180.60,357.28 181.60,360.00C182.33,361.99 183.24,365.07 184.00,365.00C185.09,364.90 185.95,357.47 187.00,354.00C187.96,350.84 188.85,345.13 190.00,345.00C190.91,344.90 192.00,348.33 193.00,350.00C194.00,351.67 194.74,353.32 196.00,355.00C197.50,356.99 200.09,361.23 201.60,361.00C203.07,360.78 203.85,356.11 205.00,354.00C205.99,352.17 206.89,350.22 208.00,349.00C208.84,348.08 209.85,347.77 210.70,347.00C211.59,346.18 212.49,345.34 213.20,344.20C214.04,342.85 214.65,340.95 215.20,339.30C215.74,337.68 216.01,335.99 216.50,334.40C216.98,332.86 217.41,330.02 218.10,329.90C218.66,329.80 219.52,332.33 220.10,332.30C220.60,332.27 220.98,331.11 221.40,330.30C221.97,329.20 222.37,326.30 223.00,326.20C223.48,326.13 224.11,327.51 224.60,328.20C225.08,328.88 225.49,330.32 225.90,330.30C226.33,330.28 226.66,328.52 227.10,327.80C227.47,327.19 227.94,326.15 228.30,326.20C228.77,326.27 229.02,328.42 229.50,329.50C229.99,330.59 230.62,332.61 231.20,332.70C231.60,332.76 232.01,331.90 232.40,331.50C232.78,331.10 233.18,330.24 233.50,330.30C233.91,330.37 234.15,331.75 234.50,332.70C235.00,334.04 235.44,336.35 236.10,337.60C236.57,338.50 237.11,339.61 237.70,339.70C238.22,339.78 238.93,339.02 239.40,338.50C239.91,337.94 240.18,336.43 240.60,336.40C240.98,336.38 241.43,337.24 241.80,338.00C242.46,339.35 242.92,342.27 243.50,344.20C244.02,345.91 244.42,347.12 245.10,349.00C246.09,351.74 247.72,355.76 249.00,359.00C250.22,362.08 251.59,368.06 252.60,368.00C253.59,367.94 254.13,362.07 255.00,359.00C255.92,355.75 256.71,351.75 258.00,349.00C259.02,346.83 260.61,343.49 261.60,343.60C262.62,343.72 263.18,347.68 264.00,350.00C264.97,352.74 265.74,356.80 267.00,359.00C267.87,360.52 269.01,362.51 270.00,362.40C271.35,362.25 272.53,357.43 274.00,355.00C275.52,352.50 277.29,347.66 279.00,347.60C280.63,347.54 281.86,352.17 284.00,354.00C286.40,356.06 290.07,358.94 293.00,359.00C295.73,359.06 298.37,356.48 301.00,355.00C303.70,353.48 306.31,351.73 309.00,350.00C311.78,348.21 315.05,344.31 317.40,344.40C319.19,344.47 320.33,347.07 322.00,348.00C323.66,348.93 325.68,350.05 327.40,350.00C329.00,349.96 330.47,348.67 332.00,348.00C333.53,347.33 335.22,345.63 336.60,346.00C338.29,346.46 339.38,349.95 341.00,352.00C342.81,354.28 344.76,357.59 347.00,359.00C348.84,360.16 351.03,360.75 353.00,360.60C355.03,360.45 356.82,358.74 359.00,358.00C361.44,357.17 364.51,356.39 367.00,356.00C369.13,355.67 371.00,355.53 373.00,355.60C375.00,355.67 377.20,356.28 379.00,356.40C380.46,356.50 381.45,356.25 383.00,356.40C385.22,356.62 388.87,358.48 391.00,358.00C392.66,357.62 393.56,356.18 395.00,355.00C396.83,353.50 399.25,351.38 401.00,349.60C402.52,348.05 403.89,346.86 405.00,345.00C406.31,342.79 406.94,339.27 408.00,337.00C408.83,335.22 409.61,332.64 410.60,332.40C411.33,332.23 412.34,334.22 413.00,334.00C413.95,333.69 414.20,328.53 415.00,328.40C415.59,328.31 416.23,330.32 417.00,331.00C417.71,331.63 418.68,332.53 419.40,332.40C420.16,332.27 420.74,329.93 421.40,330.00C422.28,330.10 422.81,334.41 424.00,335.00C424.93,335.46 426.52,333.98 427.40,334.40C428.36,334.86 428.80,336.56 429.40,338.00C430.19,339.91 430.19,344.35 431.40,345.00C432.22,345.44 433.64,344.60 434.60,344.00C435.66,343.33 436.58,340.86 437.40,341.00C438.44,341.18 439.15,344.78 440.00,347.00C441.02,349.68 441.78,353.14 443.00,356.00C444.19,358.80 445.78,363.94 447.20,364.00C448.45,364.05 449.55,360.13 451.00,358.00C452.74,355.45 455.02,351.76 457.00,349.80C458.41,348.41 459.89,346.66 461.20,346.80C462.57,346.95 463.79,349.38 465.00,351.00C466.41,352.88 467.46,355.95 469.00,357.50C470.21,358.72 471.36,359.68 473.00,360.00C475.15,360.42 478.66,358.48 481.00,358.60C482.87,358.69 484.41,359.42 486.00,360.00C487.54,360.56 489.01,362.28 490.40,362.00C492.04,361.67 493.46,358.76 495.00,357.00C496.65,355.11 498.24,352.72 500.00,351.00C501.59,349.44 503.34,347.82 505.00,347.00C506.34,346.34 507.61,345.91 509.00,346.00C510.59,346.11 512.23,347.50 514.00,348.00C515.88,348.53 517.74,348.93 520.00,349.00C522.90,349.10 526.67,348.33 530.00,348.00" stroke="#1f1fff" stroke-width="1.4"/>
<path d="M71.60,354.40C74.07,354.13 76.80,354.07 79.00,353.60C80.85,353.21 82.60,352.93 84.00,352.00C85.40,351.07 86.45,349.78 87.40,348.00C88.77,345.45 89.58,337.55 90.40,337.60C91.28,337.65 91.66,345.48 92.40,350.00C93.29,355.44 94.34,367.96 95.40,368.00C96.23,368.03 96.92,360.82 98.00,357.00C99.20,352.73 101.22,343.53 102.40,343.60C103.52,343.66 104.14,352.38 105.00,356.00C105.67,358.85 106.10,363.49 107.00,363.60C107.81,363.70 108.91,359.61 110.00,358.00C110.93,356.61 111.85,355.46 113.00,354.40C114.18,353.32 115.60,352.40 117.00,351.60C118.40,350.80 120.24,349.23 121.40,349.60C122.59,349.98 123.23,352.50 124.00,354.00C124.76,355.47 125.15,357.15 126.00,358.50C126.83,359.81 128.18,360.65 129.00,362.00C129.88,363.46 130.45,365.11 131.00,367.00C131.68,369.33 132.04,372.06 132.50,375.00C133.06,378.59 133.01,384.98 134.00,387.00C134.41,387.85 135.07,387.80 135.50,388.50C136.15,389.55 136.56,391.59 137.00,393.00C137.38,394.24 137.54,396.38 138.00,396.50C138.29,396.57 138.68,395.47 139.00,395.50C139.36,395.54 139.71,396.35 140.00,397.00C140.44,397.99 140.60,400.96 141.00,401.00C141.30,401.03 141.65,398.99 142.00,399.00C142.46,399.01 143.00,402.50 143.50,402.50C144.00,402.50 144.46,399.04 145.00,399.00C145.47,398.97 146.04,401.54 146.50,401.50C147.06,401.45 147.34,397.71 148.00,397.50C148.43,397.36 149.08,398.65 149.50,398.50C150.22,398.24 150.28,393.76 151.00,393.50C151.42,393.35 152.08,394.66 152.50,394.50C153.25,394.22 153.44,390.23 154.00,389.00C154.31,388.31 154.58,387.58 155.00,387.50C155.42,387.42 156.08,388.67 156.50,388.50C157.36,388.15 157.31,382.79 158.00,381.00C158.43,379.90 159.00,378.50 159.50,378.50C160.00,378.50 160.58,381.08 161.00,381.00C161.71,380.87 161.98,375.57 162.50,373.00C162.98,370.59 163.15,367.81 164.00,366.00C164.64,364.64 165.70,362.75 166.50,362.80C167.38,362.86 168.31,365.64 169.00,367.00C169.61,368.20 170.06,370.55 170.50,370.50C171.12,370.44 171.51,365.54 172.00,363.00C172.51,360.38 172.91,358.05 173.50,355.00C174.30,350.90 175.38,340.64 176.40,340.60C177.23,340.57 178.15,346.81 179.00,350.00C179.88,353.28 180.60,357.28 181.60,360.00C182.33,361.99 183.24,365.07 184.00,365.00C185.09,364.90 185.95,357.47 187.00,354.00C187.96,350.84 188.85,345.13 190.00,345.00C190.91,344.90 192.00,348.33 193.00,350.00C194.00,351.67 194.74,353.32 196.00,355.00C197.50,356.99 200.09,361.23 201.60,361.00C203.07,360.78 203.85,356.11 205.00,354.00C205.99,352.17 206.89,350.22 208.00,349.00C208.84,348.08 209.85,347.77 210.70,347.00C211.59,346.18 212.49,345.34 213.20,344.20C214.04,342.85 214.65,340.95 215.20,339.30C215.74,337.68 216.01,335.99 216.50,334.40C216.98,332.86 217.41,330.02 218.10,329.90C218.66,329.80 219.52,332.33 220.10,332.30C220.60,332.27 220.98,331.11 221.40,330.30C221.97,329.20 222.37,326.30 223.00,326.20C223.48,326.13 224.11,327.51 224.60,328.20C225.08,328.88 225.49,330.32 225.90,330.30C226.33,330.28 226.66,328.52 227.10,327.80C227.47,327.19 227.94,326.15 228.30,326.20C228.77,326.27 229.02,328.42 229.50,329.50C229.99,330.59 230.62,332.61 231.20,332.70C231.60,332.76 232.01,331.90 232.40,331.50C232.78,331.10 233.18,330.24 233.50,330.30C233.91,330.37 234.15,331.75 234.50,332.70C235.00,334.04 235.44,336.35 236.10,337.60C236.57,338.50 237.11,339.61 237.70,339.70C238.22,339.78 238.93,339.02 239.40,338.50C239.91,337.94 240.18,336.43 240.60,336.40C240.98,336.38 241.43,337.24 241.80,338.00C242.46,339.35 242.92,342.27 243.50,344.20C244.02,345.91 244.42,347.12 245.10,349.00C246.09,351.74 247.72,355.76 249.00,359.00C250.22,362.08 251.59,368.06 252.60,368.00C253.59,367.94 254.13,362.07 255.00,359.00C255.92,355.75 256.71,351.75 258.00,349.00C259.02,346.83 260.61,343.49 261.60,343.60C262.62,343.72 263.18,347.68 264.00,350.00C264.97,352.74 265.74,356.80 267.00,359.00C267.87,360.52 269.01,362.51 270.00,362.40C271.35,362.25 272.53,357.43 274.00,355.00C275.52,352.50 277.29,347.66 279.00,347.60C280.63,347.54 281.86,352.17 284.00,354.00C286.40,356.06 290.07,358.94 293.00,359.00C295.73,359.06 298.37,356.48 301.00,355.00C303.70,353.48 306.31,351.73 309.00,350.00C311.78,348.21 315.05,344.31 317.40,344.40C319.19,344.47 320.33,347.07 322.00,348.00C323.66,348.93 325.68,350.05 327.40,350.00C329.00,349.96 330.47,348.67 332.00,348.00C333.53,347.33 335.22,345.63 336.60,346.00C338.29,346.46 339.38,349.95 341.00,352.00C342.81,354.28 344.76,357.59 347.00,359.00C348.84,360.16 351.03,360.75 353.00,360.60C355.03,360.45 356.82,358.74 359.00,358.00C361.44,357.17 364.51,356.39 367.00,356.00C369.13,355.67 371.00,355.53 373.00,355.60C375.00,355.67 377.59,355.80 379.00,356.40C379.92,356.79 380.17,357.54 381.00,358.00C382.07,358.59 383.64,359.58 385.00,359.40C386.63,359.19 388.43,357.43 390.00,356.00C391.79,354.38 393.40,352.20 395.00,350.00C396.75,347.58 398.27,344.48 400.00,342.00C401.61,339.70 403.20,336.37 405.00,335.60C406.27,335.06 407.70,335.62 409.00,336.00C410.37,336.40 411.67,337.33 413.00,338.00C414.33,338.67 415.67,339.04 417.00,340.00C418.67,341.21 420.20,343.82 422.00,345.00C423.57,346.03 425.33,347.00 427.00,347.00C428.67,347.00 430.68,344.56 432.00,345.00C433.37,345.46 433.94,348.19 435.00,350.00C436.25,352.13 437.53,355.07 439.00,357.00C440.23,358.62 441.58,360.77 443.00,361.00C444.26,361.21 445.59,359.92 447.00,359.00C448.86,357.78 450.94,355.46 453.00,354.00C454.95,352.62 457.07,351.44 459.00,350.40C460.72,349.47 462.43,347.99 464.00,348.00C465.41,348.01 466.71,348.94 468.00,350.00C469.75,351.44 471.05,354.87 473.00,356.50C474.77,357.98 476.86,359.18 479.00,359.60C481.19,360.03 483.76,358.91 486.00,359.00C488.08,359.08 490.10,359.58 492.00,360.00C493.75,360.39 495.42,361.76 497.00,361.40C498.78,360.99 500.39,358.65 502.00,357.00C503.74,355.21 505.21,352.62 507.00,351.00C508.57,349.57 510.13,348.57 512.00,347.60C514.08,346.53 516.83,345.26 519.00,345.00C520.78,344.79 522.27,345.29 524.00,345.60C525.92,345.94 528.00,346.53 530.00,347.00" stroke="#ff1f1f" stroke-width="1.6" stroke-dasharray="9,4.5"/>
</g>
<line x1="71.60" y1="402.5" x2="71.60" y2="397.5" stroke="#3c3c3c" stroke-width="1.1"/>
<line x1="71.60" y1="326.1" x2="71.60" y2="331.1" stroke="#3c3c3c" stroke-width="1.1"/>
<line x1="128.82" y1="402.5" x2="128.82" y2="397.5" stroke="#3c3c3c" stroke-width="1.1"/>
<line x1="128.82" y1="326.1" x2="128.82" y2="331.1" stroke="#3c3c3c" stroke-width="1.1"/>
<line x1="186.05" y1="402.5" x2="186.05" y2="397.5" stroke="#3c3c3c" stroke-width="1.1"/>
<line x1="186.05" y1="326.1" x2="186.05" y2="331.1" stroke="#3c3c3c" stroke-width="1.1"/>
<line x1="243.27" y1="402.5" x2="243.27" y2="397.5" stroke="#3c3c3c" stroke-width="1.1"/>
<line x1="243.27" y1="326.1" x2="243.27" y2="331.1" stroke="#3c3c3c" stroke-width="1.1"/>
<line x1="300.50" y1="402.5" x2="300.50" y2="397.5" stroke="#3c3c3c" stroke-width="1.1"/>
<line x1="300.50" y1="326.1" x2="300.50" y2="331.1" stroke="#3c3c3c" stroke-width="1.1"/>
<line x1="357.73" y1="402.5" x2="357.73" y2="397.5" stroke="#3c3c3c" stroke-width="1.1"/>
<line x1="357.73" y1="326.1" x2="357.73" y2="331.1" stroke="#3c3c3c" stroke-width="1.1"/>
<line x1="414.95" y1="402.5" x2="414.95" y2="397.5" stroke="#3c3c3c" stroke-width="1.1"/>
<line x1="414.95" y1="326.1" x2="414.95" y2="331.1" stroke="#3c3c3c" stroke-width="1.1"/>
<line x1="472.17" y1="402.5" x2="472.17" y2="397.5" stroke="#3c3c3c" stroke-width="1.1"/>
<line x1="472.17" y1="326.1" x2="472.17" y2="331.1" stroke="#3c3c3c" stroke-width="1.1"/>
<line x1="529.40" y1="402.5" x2="529.40" y2="397.5" stroke="#3c3c3c" stroke-width="1.1"/>
<line x1="529.40" y1="326.1" x2="529.40" y2="331.1" stroke="#3c3c3c" stroke-width="1.1"/>
<line x1="71.6" y1="336.4" x2="76.6" y2="336.4" stroke="#3c3c3c" stroke-width="1.1"/>
<line x1="529.4" y1="336.4" x2="524.4" y2="336.4" stroke="#3c3c3c" stroke-width="1.1"/>
<line x1="71.6" y1="354.3" x2="76.6" y2="354.3" stroke="#3c3c3c" stroke-width="1.1"/>
<line x1="529.4" y1="354.3" x2="524.4" y2="354.3" stroke="#3c3c3c" stroke-width="1.1"/>
<line x1="71.6" y1="372.3" x2="76.6" y2="372.3" stroke="#3c3c3c" stroke-width="1.1"/>
<line x1="529.4" y1="372.3" x2="524.4" y2="372.3" stroke="#3c3c3c" stroke-width="1.1"/>
<line x1="71.6" y1="390.1" x2="76.6" y2="390.1" stroke="#3c3c3c" stroke-width="1.1"/>
<line x1="529.4" y1="390.1" x2="524.4" y2="390.1" stroke="#3c3c3c" stroke-width="1.1"/>
<rect x="71.6" y="326.1" width="457.80" height="76.40" fill="none" stroke="#6c6c6c" stroke-width="1.7"/>
<text transform="translate(70.60,423.70) scale(1.0,1)" font-size="15.3" class="tk" text-anchor="middle">0</text>
<text transform="translate(127.82,423.70) scale(1.0,1)" font-size="15.3" class="tk" text-anchor="middle">0.05</text>
<text transform="translate(185.05,423.70) scale(1.0,1)" font-size="15.3" class="tk" text-anchor="middle">0.1</text>
<text transform="translate(242.27,423.70) scale(1.0,1)" font-size="15.3" class="tk" text-anchor="middle">0.15</text>
<text transform="translate(299.50,423.70) scale(1.0,1)" font-size="15.3" class="tk" text-anchor="middle">0.2</text>
<text transform="translate(356.73,423.70) scale(1.0,1)" font-size="15.3" class="tk" text-anchor="middle">0.25</text>
<text transform="translate(413.95,423.70) scale(1.0,1)" font-size="15.3" class="tk" text-anchor="middle">0.3</text>
<text transform="translate(471.17,423.70) scale(1.0,1)" font-size="15.3" class="tk" text-anchor="middle">0.35</text>
<text transform="translate(528.40,423.70) scale(1.0,1)" font-size="15.3" class="tk" text-anchor="middle">0.4</text>
<text transform="translate(64.30,342.30) scale(1.0,1)" font-size="15.3" class="tk" text-anchor="end">1000</text>
<text transform="translate(64.30,360.20) scale(1.0,1)" font-size="15.3" class="tk" text-anchor="end">0</text>
<text transform="translate(64.30,378.20) scale(1.0,1)" font-size="15.3" class="tk" text-anchor="end">-1000</text>
<text transform="translate(64.30,396.00) scale(1.0,1)" font-size="15.3" class="tk" text-anchor="end">-2000</text>
<text x="300.50" y="444.1" class="lab" text-anchor="middle">t</text>
<text transform="translate(17.70,364.4) rotate(-90) scale(1.2,1)" class="labx" text-anchor="middle">x</text>
<text x="303.1" y="471.7" class="cap" text-anchor="middle">(<tspan font-weight="bold">c</tspan>)</text>
<line x1="141.40" y1="481.4" x2="141.40" y2="559.3" stroke="#dedede" stroke-width="1"/>
<line x1="219.20" y1="481.4" x2="219.20" y2="559.3" stroke="#dedede" stroke-width="1"/>
<line x1="297.00" y1="481.4" x2="297.00" y2="559.3" stroke="#dedede" stroke-width="1"/>
<line x1="374.80" y1="481.4" x2="374.80" y2="559.3" stroke="#dedede" stroke-width="1"/>
<line x1="452.60" y1="481.4" x2="452.60" y2="559.3" stroke="#dedede" stroke-width="1"/>
<line x1="63.6" y1="499.4" x2="530.4" y2="499.4" stroke="#dedede" stroke-width="1"/>
<line x1="63.6" y1="520.4" x2="530.4" y2="520.4" stroke="#dedede" stroke-width="1"/>
<line x1="63.6" y1="541.4" x2="530.4" y2="541.4" stroke="#dedede" stroke-width="1"/>
<clipPath id="clipd"><rect x="63.6" y="481.4" width="466.79999999999995" height="77.89999999999998"/></clipPath>
<g clip-path="url(#clipd)" fill="none" stroke-linejoin="round">
<path d="M63.60,517.50C64.43,515.23 65.31,512.91 66.10,510.70C66.84,508.62 67.49,506.55 68.20,504.60C68.86,502.79 69.60,499.40 70.20,499.40C70.71,499.40 71.24,501.49 71.60,503.20C72.28,506.41 72.17,512.68 72.50,517.50C72.84,522.44 73.02,528.22 73.60,532.50C74.04,535.75 74.49,540.90 75.30,541.00C75.95,541.08 76.94,537.66 77.70,536.00C78.44,534.39 79.11,532.36 79.80,531.20C80.24,530.46 80.64,529.47 81.10,529.50C81.75,529.54 82.63,531.94 83.20,533.20C83.75,534.41 84.13,536.94 84.50,536.90C85.17,536.82 85.47,529.01 85.90,524.40C86.43,518.71 86.29,508.42 87.30,505.30C87.66,504.18 88.08,503.29 88.60,503.20C89.09,503.12 89.79,504.71 90.30,504.60C90.97,504.46 91.38,502.32 92.00,501.20C92.64,500.05 93.38,498.65 94.10,497.80C94.62,497.18 95.27,496.25 95.70,496.40C96.52,496.69 96.73,500.73 97.10,503.90C97.73,509.26 97.76,518.95 98.20,525.70C98.58,531.56 98.47,538.89 99.50,542.10C99.97,543.58 100.66,545.08 101.30,545.10C101.96,545.12 102.75,543.21 103.40,542.10C104.13,540.87 104.75,538.05 105.40,538.00C105.88,537.96 106.39,539.39 106.80,540.00C107.14,540.50 107.44,541.47 107.70,541.40C108.49,541.20 108.47,531.45 108.80,525.70C109.19,518.72 108.92,506.74 109.80,502.50C110.15,500.82 110.48,500.03 111.10,499.10C111.65,498.27 112.59,497.84 113.20,497.10C113.82,496.35 114.23,494.70 114.80,494.60C115.24,494.52 115.65,495.60 116.20,495.70C116.83,495.81 117.86,494.64 118.40,495.00C119.55,495.77 119.05,501.40 119.30,505.30C119.62,510.40 119.73,516.79 120.00,523.00C120.29,529.89 119.84,541.09 121.00,544.80C121.45,546.22 122.10,546.83 122.70,547.50C123.15,548.00 123.69,548.73 124.10,548.60C124.81,548.38 125.13,544.96 125.70,543.50C126.15,542.35 126.63,540.54 127.10,540.50C127.46,540.47 127.89,541.47 128.20,542.10C128.58,542.86 128.86,544.83 129.10,544.80C129.73,544.71 129.56,532.38 129.80,525.70C130.06,518.34 129.95,507.91 130.60,502.50C130.95,499.54 131.18,496.76 132.00,495.70C132.39,495.20 132.96,495.45 133.40,495.00C134.18,494.19 134.92,490.47 135.50,490.50C136.03,490.53 136.36,493.08 136.80,494.40C137.26,495.75 137.76,498.51 138.20,498.50C138.66,498.49 139.14,494.07 139.50,494.10C140.06,494.15 140.33,501.01 140.60,505.30C140.97,511.08 140.98,519.01 141.20,525.70C141.41,532.17 140.85,541.39 141.90,544.80C142.33,546.19 143.06,546.48 143.60,547.50C144.24,548.70 144.90,551.66 145.40,551.60C146.14,551.51 146.35,544.82 147.00,542.10C147.50,540.00 148.13,536.61 148.70,536.60C149.20,536.59 149.78,539.27 150.20,540.70C150.65,542.22 151.01,545.53 151.30,545.50C151.90,545.44 151.84,531.75 152.10,524.40C152.38,516.35 151.97,503.68 152.90,499.10C153.26,497.31 153.76,496.57 154.30,495.50C154.78,494.56 155.43,493.95 155.90,493.00C156.45,491.89 156.89,489.17 157.30,489.20C157.83,489.24 158.19,493.32 158.60,495.70C159.10,498.58 159.45,502.39 160.00,505.30C160.47,507.77 160.81,511.91 161.60,512.10C162.10,512.22 162.90,511.09 163.40,510.00C164.44,507.74 164.74,498.19 165.20,498.20C165.62,498.21 165.86,504.04 166.10,508.00C166.47,514.09 166.39,524.92 166.80,531.20C167.08,535.52 167.16,541.97 167.90,542.10C168.38,542.18 169.28,537.97 169.80,538.00C170.26,538.03 170.55,540.06 170.90,541.40C171.39,543.27 171.88,548.22 172.30,548.20C172.81,548.18 173.16,542.18 173.60,538.00C174.29,531.35 175.00,520.08 175.70,512.10C176.30,505.25 176.24,495.41 177.50,493.00C177.87,492.28 178.35,491.87 178.80,491.90C179.34,491.93 179.94,493.61 180.50,493.70C180.94,493.77 181.45,492.81 181.80,493.00C182.83,493.55 182.59,500.39 182.90,505.30C183.36,512.59 183.53,524.77 183.90,532.50C184.18,538.24 183.78,544.32 184.80,547.50C185.34,549.17 186.42,551.14 187.00,551.00C188.13,550.74 188.14,541.12 188.60,535.30C189.18,528.02 189.36,518.22 190.00,510.70C190.54,504.31 190.82,496.97 192.00,493.00C192.65,490.82 193.75,488.17 194.40,488.20C194.94,488.23 195.35,489.95 195.70,491.60C196.53,495.52 196.43,504.54 196.80,512.10C197.26,521.45 197.61,536.00 198.20,543.50C198.53,547.70 198.90,553.30 199.30,553.30C199.70,553.30 200.20,547.51 200.60,543.50C201.24,537.16 201.76,526.43 202.30,518.90C202.76,512.52 202.87,506.84 203.60,501.20C204.28,495.97 205.77,486.19 206.40,486.20C206.75,486.20 206.95,488.91 207.17,490.84C207.52,494.02 207.69,498.97 207.93,503.52C208.21,508.85 208.44,515.08 208.70,520.85C208.96,526.62 209.19,532.85 209.47,538.17C209.71,542.73 209.88,547.68 210.23,550.86C210.45,552.79 210.66,555.46 211.00,555.50C211.21,555.53 211.53,554.51 211.74,553.77C212.09,552.55 212.25,550.61 212.48,548.75C212.76,546.43 212.99,543.69 213.22,540.93C213.48,537.83 213.72,534.44 213.96,531.07C214.21,527.53 214.45,523.79 214.70,520.15C214.95,516.51 215.19,512.77 215.44,509.23C215.68,505.86 215.92,502.47 216.18,499.37C216.41,496.61 216.64,493.87 216.92,491.55C217.15,489.69 217.31,487.75 217.66,486.53C217.87,485.79 218.19,484.77 218.40,484.80C218.74,484.84 218.91,487.61 219.12,489.62C219.45,492.93 219.61,498.07 219.83,502.80C220.09,508.33 220.31,514.80 220.55,520.80C220.79,526.80 221.01,533.27 221.27,538.80C221.49,543.53 221.65,548.67 221.98,551.98C222.19,553.99 222.36,556.75 222.70,556.80C222.90,556.83 223.20,555.96 223.40,555.33C223.73,554.29 223.89,552.63 224.10,551.03C224.37,549.03 224.58,546.66 224.80,544.25C225.05,541.54 225.27,538.55 225.50,535.55C225.74,532.35 225.97,528.97 226.20,525.62C226.44,522.21 226.66,518.69 226.90,515.28C227.13,511.93 227.36,508.55 227.60,505.35C227.83,502.35 228.05,499.36 228.30,496.65C228.52,494.24 228.73,491.87 229.00,489.87C229.21,488.27 229.37,486.61 229.70,485.57C229.90,484.94 230.20,484.07 230.40,484.10C230.81,484.17 230.97,488.21 231.20,491.10C231.57,495.76 231.75,502.99 232.00,509.42C232.28,516.57 232.52,524.93 232.80,532.08C233.05,538.51 233.23,545.74 233.60,550.40C233.83,553.29 233.97,557.33 234.40,557.40C234.61,557.44 234.93,556.55 235.14,555.90C235.48,554.85 235.65,553.16 235.87,551.53C236.15,549.50 236.38,547.09 236.61,544.65C236.87,541.88 237.11,538.85 237.35,535.80C237.60,532.55 237.84,529.11 238.08,525.71C238.33,522.24 238.57,518.66 238.82,515.19C239.06,511.79 239.30,508.35 239.55,505.10C239.79,502.05 240.03,499.02 240.29,496.25C240.52,493.81 240.75,491.40 241.03,489.37C241.25,487.74 241.42,486.05 241.76,485.00C241.97,484.35 242.29,483.46 242.50,483.50C242.93,483.58 243.07,487.69 243.30,490.63C243.67,495.38 243.85,502.75 244.10,509.31C244.38,516.59 244.62,525.11 244.90,532.39C245.15,538.95 245.33,546.32 245.70,551.07C245.93,554.01 246.08,558.13 246.50,558.20C246.70,558.23 247.01,557.34 247.21,556.68C247.54,555.61 247.70,553.90 247.92,552.25C248.19,550.18 248.40,547.73 248.63,545.26C248.88,542.45 249.11,539.37 249.34,536.28C249.58,532.98 249.81,529.49 250.05,526.04C250.28,522.52 250.52,518.88 250.75,515.36C250.99,511.91 251.22,508.42 251.46,505.12C251.69,502.03 251.92,498.95 252.17,496.14C252.40,493.67 252.61,491.22 252.88,489.15C253.10,487.50 253.26,485.79 253.59,484.72C253.79,484.06 254.10,483.17 254.30,483.20C254.65,483.25 254.81,486.13 255.02,488.22C255.35,491.67 255.51,497.02 255.73,501.95C255.99,507.71 256.21,514.45 256.45,520.70C256.69,526.95 256.91,533.69 257.17,539.45C257.39,544.38 257.55,549.73 257.88,553.18C258.09,555.27 258.23,558.14 258.60,558.20C258.81,558.23 259.15,557.34 259.36,556.69C259.72,555.62 259.90,553.91 260.13,552.27C260.42,550.22 260.65,547.78 260.89,545.31C261.16,542.52 261.41,539.45 261.65,536.37C261.92,533.08 262.17,529.60 262.42,526.17C262.68,522.66 262.92,519.04 263.18,515.53C263.43,512.10 263.68,508.62 263.95,505.33C264.19,502.25 264.44,499.18 264.71,496.39C264.95,493.92 265.18,491.48 265.47,489.43C265.70,487.79 265.88,486.08 266.24,485.01C266.45,484.36 266.79,483.47 267.00,483.50C267.37,483.56 267.51,486.40 267.72,488.48C268.05,491.89 268.21,497.19 268.43,502.07C268.69,507.78 268.91,514.46 269.15,520.65C269.39,526.84 269.61,533.52 269.87,539.22C270.09,544.11 270.25,549.41 270.58,552.82C270.79,554.90 270.89,557.70 271.30,557.80C271.49,557.85 271.80,557.29 272.00,556.88C272.31,556.23 272.49,555.17 272.70,554.15C272.97,552.87 273.18,551.33 273.40,549.76C273.65,547.96 273.88,545.96 274.10,543.93C274.34,541.70 274.57,539.33 274.80,536.94C275.04,534.41 275.27,531.78 275.50,529.15C275.74,526.45 275.97,523.68 276.20,520.95C276.43,518.22 276.66,515.45 276.90,512.75C277.13,510.12 277.36,507.49 277.60,504.96C277.83,502.57 278.06,500.20 278.30,497.97C278.52,495.94 278.75,493.94 279.00,492.14C279.22,490.57 279.43,489.03 279.70,487.75C279.91,486.73 280.09,485.67 280.40,485.02C280.60,484.61 280.90,484.05 281.10,484.10C281.50,484.20 281.63,486.95 281.83,488.99C282.18,492.34 282.34,497.55 282.57,502.35C282.83,507.96 283.06,514.52 283.30,520.60C283.54,526.68 283.77,533.24 284.03,538.85C284.26,543.65 284.42,548.86 284.77,552.21C284.97,554.25 285.22,557.11 285.50,557.10C286.03,557.09 286.76,544.76 287.50,539.40C288.12,534.92 288.36,530.09 289.50,527.10C290.24,525.17 291.40,522.77 292.30,522.70C292.99,522.65 293.75,523.92 294.30,525.00C295.18,526.71 295.57,529.75 296.10,532.50C296.74,535.80 297.28,543.52 297.70,543.50C298.35,543.47 298.41,524.40 298.80,516.20C299.12,509.46 299.13,497.87 299.80,497.80C300.14,497.76 300.61,502.49 301.10,502.50C301.63,502.51 302.33,499.06 302.90,497.10C303.57,494.82 303.90,489.85 304.80,489.60C305.31,489.46 305.98,491.14 306.60,491.40C307.06,491.59 307.63,491.06 308.00,491.40C309.03,492.34 308.71,497.58 309.00,502.00C309.48,509.35 309.73,522.70 310.10,531.40C310.40,538.34 309.71,546.68 311.00,550.10C311.57,551.62 312.69,553.15 313.30,553.00C314.22,552.78 314.52,547.73 315.00,544.80C315.54,541.48 315.64,536.64 316.30,534.10C316.69,532.62 317.28,530.67 317.70,530.70C318.19,530.73 318.61,533.55 319.00,535.40C319.55,537.98 320.01,544.82 320.40,544.80C321.05,544.77 321.32,526.49 321.70,518.00C322.04,510.31 321.47,496.33 322.60,496.00C322.98,495.89 323.57,498.07 324.00,498.00C324.65,497.90 325.18,494.21 325.70,492.70C326.09,491.55 326.40,489.70 326.80,489.70C327.28,489.70 327.93,492.22 328.40,494.00C329.12,496.74 329.58,502.00 330.10,504.70C330.42,506.36 330.69,508.71 331.00,508.70C331.44,508.69 331.94,502.78 332.40,500.70C332.70,499.35 333.04,497.38 333.30,497.40C333.83,497.45 334.09,505.82 334.40,511.40C334.86,519.65 333.84,538.67 335.40,542.10C335.79,542.96 336.43,543.49 336.80,543.40C337.24,543.29 337.38,540.80 337.70,540.80C338.10,540.80 338.57,543.42 339.00,544.80C339.46,546.28 339.98,549.44 340.40,549.40C341.22,549.32 341.79,538.00 342.40,531.40C343.15,523.38 343.76,512.06 344.40,504.70C344.85,499.50 344.34,492.64 345.70,491.40C346.23,490.92 347.04,491.30 347.70,491.40C348.37,491.50 349.16,491.33 349.70,492.00C351.35,494.06 350.70,503.94 351.10,511.40C351.65,521.56 351.00,541.09 352.40,547.40C352.93,549.77 353.89,552.09 354.40,552.10C354.70,552.11 354.93,551.20 355.14,550.51C355.48,549.40 355.65,547.62 355.88,545.91C356.16,543.79 356.39,541.27 356.62,538.74C356.88,535.91 357.12,532.80 357.36,529.71C357.61,526.46 357.85,523.04 358.10,519.70C358.35,516.36 358.59,512.94 358.84,509.69C359.08,506.60 359.32,503.49 359.58,500.66C359.81,498.13 360.04,495.61 360.32,493.49C360.55,491.78 360.72,490.00 361.06,488.89C361.27,488.20 361.59,487.28 361.80,487.30C362.10,487.33 362.31,489.23 362.51,490.62C362.85,492.94 363.01,496.54 363.23,499.93C363.49,504.00 363.71,508.78 363.94,513.38C364.19,518.23 364.41,523.47 364.66,528.32C364.89,532.92 365.11,537.70 365.37,541.77C365.59,545.16 365.75,548.76 366.09,551.08C366.29,552.47 366.52,554.38 366.80,554.40C367.03,554.42 367.34,553.20 367.56,552.30C367.91,550.82 368.08,548.49 368.31,546.26C368.60,543.50 368.83,540.24 369.07,537.00C369.33,533.41 369.57,529.49 369.82,525.64C370.08,521.68 370.32,517.52 370.58,513.56C370.83,509.71 371.07,505.79 371.33,502.20C371.57,498.96 371.80,495.70 372.09,492.94C372.32,490.71 372.49,488.38 372.84,486.90C373.06,486.00 373.38,484.78 373.60,484.80C373.93,484.83 374.17,487.60 374.40,489.60C374.77,492.88 374.95,497.99 375.20,502.70C375.49,508.20 375.73,514.63 376.00,520.60C376.27,526.57 376.51,533.00 376.80,538.50C377.05,543.21 377.23,548.32 377.60,551.60C377.83,553.60 378.08,556.37 378.40,556.40C378.62,556.42 378.94,555.14 379.16,554.20C379.51,552.65 379.68,550.21 379.91,547.87C380.20,544.99 380.43,541.57 380.67,538.17C380.93,534.41 381.17,530.31 381.42,526.28C381.68,522.13 381.92,517.77 382.18,513.62C382.43,509.59 382.67,505.49 382.93,501.73C383.17,498.33 383.40,494.91 383.69,492.03C383.92,489.69 384.09,487.25 384.44,485.70C384.66,484.76 384.98,483.48 385.20,483.50C385.53,483.53 385.77,486.39 386.00,488.45C386.37,491.84 386.55,497.11 386.80,501.97C387.09,507.65 387.33,514.29 387.60,520.45C387.87,526.61 388.11,533.25 388.40,538.92C388.65,543.79 388.83,549.06 389.20,552.45C389.43,554.51 389.66,557.36 390.00,557.40C390.21,557.42 390.51,556.36 390.71,555.57C391.04,554.28 391.20,552.24 391.42,550.28C391.69,547.83 391.91,544.93 392.13,542.02C392.38,538.76 392.61,535.18 392.84,531.63C393.08,527.88 393.31,523.94 393.55,520.10C393.79,516.26 394.02,512.32 394.26,508.57C394.49,505.02 394.72,501.44 394.97,498.18C395.19,495.27 395.41,492.37 395.68,489.92C395.90,487.96 396.06,485.92 396.39,484.63C396.59,483.84 396.89,482.78 397.10,482.80C397.43,482.84 397.64,485.76 397.85,487.87C398.20,491.35 398.37,496.75 398.60,501.73C398.87,507.54 399.10,514.34 399.35,520.65C399.60,526.96 399.83,533.76 400.10,539.58C400.33,544.55 400.50,549.95 400.85,553.43C401.06,555.54 401.25,558.46 401.60,558.50C401.82,558.53 402.15,557.43 402.37,556.63C402.73,555.31 402.91,553.22 403.14,551.20C403.43,548.70 403.67,545.73 403.91,542.75C404.18,539.41 404.43,535.75 404.68,532.10C404.94,528.27 405.19,524.23 405.45,520.30C405.71,516.37 405.96,512.33 406.22,508.50C406.47,504.85 406.72,501.19 406.99,497.85C407.23,494.87 407.47,491.90 407.76,489.40C407.99,487.38 408.17,485.29 408.53,483.97C408.75,483.17 409.08,482.07 409.30,482.10C409.71,482.16 409.86,486.42 410.08,489.45C410.44,494.35 410.61,501.95 410.86,508.70C411.14,516.21 411.36,524.99 411.64,532.50C411.89,539.25 412.06,546.85 412.42,551.75C412.64,554.78 412.78,559.03 413.20,559.10C413.40,559.13 413.71,558.21 413.92,557.53C414.25,556.43 414.42,554.66 414.64,552.96C414.91,550.84 415.13,548.31 415.35,545.76C415.61,542.87 415.84,539.69 416.07,536.51C416.32,533.10 416.55,529.51 416.79,525.95C417.03,522.32 417.27,518.58 417.51,514.95C417.75,511.39 417.98,507.80 418.23,504.39C418.46,501.21 418.69,498.03 418.95,495.14C419.17,492.59 419.39,490.06 419.66,487.94C419.88,486.24 420.05,484.47 420.38,483.37C420.59,482.69 420.90,481.77 421.10,481.80C421.52,481.87 421.69,486.14 421.92,489.18C422.30,494.10 422.48,501.72 422.74,508.51C423.03,516.05 423.27,524.85 423.56,532.39C423.82,539.18 424.00,546.80 424.38,551.72C424.61,554.76 424.76,559.03 425.20,559.10C425.41,559.14 425.73,558.21 425.95,557.53C426.29,556.43 426.46,554.66 426.69,552.96C426.97,550.84 427.20,548.31 427.44,545.76C427.70,542.87 427.94,539.69 428.18,536.51C428.44,533.10 428.68,529.51 428.93,525.95C429.18,522.32 429.42,518.58 429.67,514.95C429.92,511.39 430.16,507.80 430.42,504.39C430.66,501.21 430.90,498.03 431.16,495.14C431.40,492.59 431.63,490.06 431.91,487.94C432.14,486.24 432.31,484.47 432.65,483.37C432.87,482.69 433.19,481.76 433.40,481.80C433.84,481.87 433.99,486.14 434.22,489.18C434.60,494.10 434.78,501.72 435.04,508.51C435.33,516.05 435.57,524.85 435.86,532.39C436.12,539.18 436.30,546.80 436.68,551.72C436.91,554.76 437.01,558.98 437.50,559.10C437.71,559.15 438.02,558.48 438.23,557.99C438.56,557.21 438.74,555.95 438.96,554.73C439.24,553.20 439.46,551.37 439.69,549.51C439.95,547.37 440.19,545.01 440.42,542.62C440.68,540.02 440.92,537.26 441.15,534.48C441.40,531.57 441.64,528.55 441.88,525.55C442.13,522.51 442.37,519.39 442.62,516.35C442.86,513.35 443.10,510.33 443.35,507.42C443.58,504.64 443.82,501.88 444.08,499.28C444.31,496.89 444.55,494.53 444.81,492.39C445.04,490.53 445.26,488.70 445.54,487.17C445.76,485.95 445.94,484.69 446.27,483.91C446.48,483.42 446.80,482.75 447.00,482.80C447.40,482.89 447.54,485.76 447.75,487.87C448.10,491.35 448.27,496.75 448.50,501.73C448.77,507.54 449.00,514.34 449.25,520.65C449.50,526.96 449.73,533.76 450.00,539.58C450.23,544.55 450.40,549.95 450.75,553.43C450.96,555.54 451.20,558.50 451.50,558.50C452.10,558.49 453.08,544.05 453.90,538.00C454.55,533.17 454.64,527.61 455.90,525.00C456.57,523.62 457.66,522.19 458.40,522.30C459.30,522.44 460.05,525.18 460.70,527.10C461.58,529.69 462.05,533.62 462.70,536.60C463.28,539.25 463.96,544.14 464.40,544.10C465.19,544.03 465.14,527.00 465.50,518.90C465.84,511.37 465.74,497.22 466.50,497.10C466.78,497.06 467.21,498.94 467.50,499.80C467.76,500.57 467.94,502.01 468.20,502.00C468.58,501.99 469.08,498.87 469.50,497.10C469.99,495.02 470.31,491.47 470.90,490.30C471.15,489.81 471.42,489.38 471.70,489.40C472.10,489.43 472.46,491.24 473.00,491.40C473.46,491.54 474.18,490.47 474.60,490.70C475.46,491.17 475.39,494.79 475.70,498.00C476.28,504.12 476.46,516.11 476.80,524.80C477.12,533.02 476.80,544.51 477.70,548.80C478.05,550.45 478.48,551.20 479.00,552.10C479.41,552.83 480.02,554.00 480.40,553.90C481.17,553.70 481.28,547.96 481.70,544.80C482.15,541.38 482.38,536.78 483.00,534.10C483.39,532.42 483.92,530.09 484.40,530.10C484.95,530.11 485.60,533.36 486.10,535.40C486.75,538.07 487.28,544.83 487.70,544.80C488.40,544.76 488.45,526.42 488.80,518.00C489.11,510.49 488.78,496.89 489.70,496.70C490.05,496.63 490.57,499.43 491.00,499.40C491.60,499.36 492.21,495.73 492.80,494.00C493.34,492.40 493.90,489.38 494.40,489.40C494.97,489.42 495.58,493.04 496.00,495.40C496.59,498.69 496.50,504.50 497.10,507.40C497.45,509.12 497.95,511.40 498.40,511.40C498.91,511.39 499.55,508.07 500.00,506.10C500.55,503.70 500.91,497.98 501.30,498.00C501.86,498.02 502.32,509.05 502.70,515.40C503.16,523.06 502.29,537.74 503.70,540.80C504.09,541.64 504.70,542.19 505.10,542.10C505.65,541.97 506.00,538.79 506.40,538.80C506.80,538.81 507.15,540.83 507.50,542.10C507.96,543.79 508.41,548.12 508.80,548.10C509.45,548.06 509.89,537.22 510.40,531.40C510.96,525.04 511.39,517.69 512.00,511.40C512.54,505.76 512.82,498.71 513.80,495.40C514.28,493.79 514.80,492.25 515.50,492.00C515.97,491.83 516.67,492.22 517.10,492.70C517.77,493.44 518.05,494.81 518.40,496.70C519.19,500.96 519.17,510.68 519.50,518.00C519.85,525.78 519.72,536.57 520.40,542.10C520.76,545.04 521.26,547.25 521.80,548.80C522.11,549.69 522.50,550.85 522.80,550.80C523.52,550.68 523.92,543.12 524.40,538.10C525.10,530.84 525.59,519.66 526.20,511.40C526.73,504.25 526.27,495.53 527.80,491.40C528.60,489.25 529.93,488.47 531.00,487.00" stroke="#1f1fff" stroke-width="1.4"/>
<path d="M63.60,517.50C64.43,515.23 65.31,512.91 66.10,510.70C66.84,508.62 67.49,506.55 68.20,504.60C68.86,502.79 69.60,499.40 70.20,499.40C70.71,499.40 71.24,501.49 71.60,503.20C72.28,506.41 72.17,512.68 72.50,517.50C72.84,522.44 73.02,528.22 73.60,532.50C74.04,535.75 74.49,540.90 75.30,541.00C75.95,541.08 76.94,537.66 77.70,536.00C78.44,534.39 79.11,532.36 79.80,531.20C80.24,530.46 80.64,529.47 81.10,529.50C81.75,529.54 82.63,531.94 83.20,533.20C83.75,534.41 84.13,536.94 84.50,536.90C85.17,536.82 85.47,529.01 85.90,524.40C86.43,518.71 86.29,508.42 87.30,505.30C87.66,504.18 88.08,503.29 88.60,503.20C89.09,503.12 89.79,504.71 90.30,504.60C90.97,504.46 91.38,502.32 92.00,501.20C92.64,500.05 93.38,498.65 94.10,497.80C94.62,497.18 95.27,496.25 95.70,496.40C96.52,496.69 96.73,500.73 97.10,503.90C97.73,509.26 97.76,518.95 98.20,525.70C98.58,531.56 98.47,538.89 99.50,542.10C99.97,543.58 100.66,545.08 101.30,545.10C101.96,545.12 102.75,543.21 103.40,542.10C104.13,540.87 104.75,538.05 105.40,538.00C105.88,537.96 106.39,539.39 106.80,540.00C107.14,540.50 107.44,541.47 107.70,541.40C108.49,541.20 108.47,531.45 108.80,525.70C109.19,518.72 108.92,506.74 109.80,502.50C110.15,500.82 110.48,500.03 111.10,499.10C111.65,498.27 112.59,497.84 113.20,497.10C113.82,496.35 114.23,494.70 114.80,494.60C115.24,494.52 115.65,495.60 116.20,495.70C116.83,495.81 117.86,494.64 118.40,495.00C119.55,495.77 119.05,501.40 119.30,505.30C119.62,510.40 119.73,516.79 120.00,523.00C120.29,529.89 119.84,541.09 121.00,544.80C121.45,546.22 122.10,546.83 122.70,547.50C123.15,548.00 123.69,548.73 124.10,548.60C124.81,548.38 125.13,544.96 125.70,543.50C126.15,542.35 126.63,540.54 127.10,540.50C127.46,540.47 127.89,541.47 128.20,542.10C128.58,542.86 128.86,544.83 129.10,544.80C129.73,544.71 129.56,532.38 129.80,525.70C130.06,518.34 129.95,507.91 130.60,502.50C130.95,499.54 131.18,496.76 132.00,495.70C132.39,495.20 132.96,495.45 133.40,495.00C134.18,494.19 134.92,490.47 135.50,490.50C136.03,490.53 136.36,493.08 136.80,494.40C137.26,495.75 137.76,498.51 138.20,498.50C138.66,498.49 139.14,494.07 139.50,494.10C140.06,494.15 140.33,501.01 140.60,505.30C140.97,511.08 140.98,519.01 141.20,525.70C141.41,532.17 140.85,541.39 141.90,544.80C142.33,546.19 143.06,546.48 143.60,547.50C144.24,548.70 144.90,551.66 145.40,551.60C146.14,551.51 146.35,544.82 147.00,542.10C147.50,540.00 148.13,536.61 148.70,536.60C149.20,536.59 149.78,539.27 150.20,540.70C150.65,542.22 151.01,545.53 151.30,545.50C151.90,545.44 151.84,531.75 152.10,524.40C152.38,516.35 151.97,503.68 152.90,499.10C153.26,497.31 153.76,496.57 154.30,495.50C154.78,494.56 155.43,493.95 155.90,493.00C156.45,491.89 156.89,489.17 157.30,489.20C157.83,489.24 158.19,493.32 158.60,495.70C159.10,498.58 159.45,502.39 160.00,505.30C160.47,507.77 160.81,511.91 161.60,512.10C162.10,512.22 162.90,511.09 163.40,510.00C164.44,507.74 164.74,498.19 165.20,498.20C165.62,498.21 165.86,504.04 166.10,508.00C166.47,514.09 166.39,524.92 166.80,531.20C167.08,535.52 167.16,541.97 167.90,542.10C168.38,542.18 169.28,537.97 169.80,538.00C170.26,538.03 170.55,540.06 170.90,541.40C171.39,543.27 171.88,548.22 172.30,548.20C172.81,548.18 173.16,542.18 173.60,538.00C174.29,531.35 175.00,520.08 175.70,512.10C176.30,505.25 176.24,495.41 177.50,493.00C177.87,492.28 178.35,491.87 178.80,491.90C179.34,491.93 179.94,493.61 180.50,493.70C180.94,493.77 181.45,492.81 181.80,493.00C182.83,493.55 182.59,500.39 182.90,505.30C183.36,512.59 183.53,524.77 183.90,532.50C184.18,538.24 183.78,544.32 184.80,547.50C185.34,549.17 186.42,551.14 187.00,551.00C188.13,550.74 188.14,541.12 188.60,535.30C189.18,528.02 189.36,518.22 190.00,510.70C190.54,504.31 190.82,496.97 192.00,493.00C192.65,490.82 193.75,488.17 194.40,488.20C194.94,488.23 195.35,489.95 195.70,491.60C196.53,495.52 196.43,504.54 196.80,512.10C197.26,521.45 197.61,536.00 198.20,543.50C198.53,547.70 198.90,553.30 199.30,553.30C199.70,553.30 200.20,547.51 200.60,543.50C201.24,537.16 201.76,526.43 202.30,518.90C202.76,512.52 202.87,506.84 203.60,501.20C204.28,495.97 205.77,486.19 206.40,486.20C206.75,486.20 206.95,488.91 207.17,490.84C207.52,494.02 207.69,498.97 207.93,503.52C208.21,508.85 208.44,515.08 208.70,520.85C208.96,526.62 209.19,532.85 209.47,538.17C209.71,542.73 209.88,547.68 210.23,550.86C210.45,552.79 210.66,555.46 211.00,555.50C211.21,555.53 211.53,554.51 211.74,553.77C212.09,552.55 212.25,550.61 212.48,548.75C212.76,546.43 212.99,543.69 213.22,540.93C213.48,537.83 213.72,534.44 213.96,531.07C214.21,527.53 214.45,523.79 214.70,520.15C214.95,516.51 215.19,512.77 215.44,509.23C215.68,505.86 215.92,502.47 216.18,499.37C216.41,496.61 216.64,493.87 216.92,491.55C217.15,489.69 217.31,487.75 217.66,486.53C217.87,485.79 218.19,484.77 218.40,484.80C218.74,484.84 218.91,487.61 219.12,489.62C219.45,492.93 219.61,498.07 219.83,502.80C220.09,508.33 220.31,514.80 220.55,520.80C220.79,526.80 221.01,533.27 221.27,538.80C221.49,543.53 221.65,548.67 221.98,551.98C222.19,553.99 222.36,556.75 222.70,556.80C222.90,556.83 223.20,555.96 223.40,555.33C223.73,554.29 223.89,552.63 224.10,551.03C224.37,549.03 224.58,546.66 224.80,544.25C225.05,541.54 225.27,538.55 225.50,535.55C225.74,532.35 225.97,528.97 226.20,525.62C226.44,522.21 226.66,518.69 226.90,515.28C227.13,511.93 227.36,508.55 227.60,505.35C227.83,502.35 228.05,499.36 228.30,496.65C228.52,494.24 228.73,491.87 229.00,489.87C229.21,488.27 229.37,486.61 229.70,485.57C229.90,484.94 230.20,484.07 230.40,484.10C230.81,484.17 230.97,488.21 231.20,491.10C231.57,495.76 231.75,502.99 232.00,509.42C232.28,516.57 232.52,524.93 232.80,532.08C233.05,538.51 233.23,545.74 233.60,550.40C233.83,553.29 233.97,557.33 234.40,557.40C234.61,557.44 234.93,556.55 235.14,555.90C235.48,554.85 235.65,553.16 235.87,551.53C236.15,549.50 236.38,547.09 236.61,544.65C236.87,541.88 237.11,538.85 237.35,535.80C237.60,532.55 237.84,529.11 238.08,525.71C238.33,522.24 238.57,518.66 238.82,515.19C239.06,511.79 239.30,508.35 239.55,505.10C239.79,502.05 240.03,499.02 240.29,496.25C240.52,493.81 240.75,491.40 241.03,489.37C241.25,487.74 241.42,486.05 241.76,485.00C241.97,484.35 242.29,483.46 242.50,483.50C242.93,483.58 243.07,487.69 243.30,490.63C243.67,495.38 243.85,502.75 244.10,509.31C244.38,516.59 244.62,525.11 244.90,532.39C245.15,538.95 245.33,546.32 245.70,551.07C245.93,554.01 246.08,558.13 246.50,558.20C246.70,558.23 247.01,557.34 247.21,556.68C247.54,555.61 247.70,553.90 247.92,552.25C248.19,550.18 248.40,547.73 248.63,545.26C248.88,542.45 249.11,539.37 249.34,536.28C249.58,532.98 249.81,529.49 250.05,526.04C250.28,522.52 250.52,518.88 250.75,515.36C250.99,511.91 251.22,508.42 251.46,505.12C251.69,502.03 251.92,498.95 252.17,496.14C252.40,493.67 252.61,491.22 252.88,489.15C253.10,487.50 253.26,485.79 253.59,484.72C253.79,484.06 254.10,483.17 254.30,483.20C254.65,483.25 254.81,486.13 255.02,488.22C255.35,491.67 255.51,497.02 255.73,501.95C255.99,507.71 256.21,514.45 256.45,520.70C256.69,526.95 256.91,533.69 257.17,539.45C257.39,544.38 257.55,549.73 257.88,553.18C258.09,555.27 258.23,558.14 258.60,558.20C258.81,558.23 259.15,557.34 259.36,556.69C259.72,555.62 259.90,553.91 260.13,552.27C260.42,550.22 260.65,547.78 260.89,545.31C261.16,542.52 261.41,539.45 261.65,536.37C261.92,533.08 262.17,529.60 262.42,526.17C262.68,522.66 262.92,519.04 263.18,515.53C263.43,512.10 263.68,508.62 263.95,505.33C264.19,502.25 264.44,499.18 264.71,496.39C264.95,493.92 265.18,491.48 265.47,489.43C265.70,487.79 265.88,486.08 266.24,485.01C266.45,484.36 266.79,483.47 267.00,483.50C267.37,483.56 267.51,486.40 267.72,488.48C268.05,491.89 268.21,497.19 268.43,502.07C268.69,507.78 268.91,514.46 269.15,520.65C269.39,526.84 269.61,533.52 269.87,539.22C270.09,544.11 270.25,549.41 270.58,552.82C270.79,554.90 270.89,557.70 271.30,557.80C271.49,557.85 271.80,557.29 272.00,556.88C272.31,556.23 272.49,555.17 272.70,554.15C272.97,552.87 273.18,551.33 273.40,549.76C273.65,547.96 273.88,545.96 274.10,543.93C274.34,541.70 274.57,539.33 274.80,536.94C275.04,534.41 275.27,531.78 275.50,529.15C275.74,526.45 275.97,523.68 276.20,520.95C276.43,518.22 276.66,515.45 276.90,512.75C277.13,510.12 277.36,507.49 277.60,504.96C277.83,502.57 278.06,500.20 278.30,497.97C278.52,495.94 278.75,493.94 279.00,492.14C279.22,490.57 279.43,489.03 279.70,487.75C279.91,486.73 280.09,485.67 280.40,485.02C280.60,484.61 280.90,484.05 281.10,484.10C281.50,484.20 281.63,486.95 281.83,488.99C282.18,492.34 282.34,497.55 282.57,502.35C282.83,507.96 283.06,514.52 283.30,520.60C283.54,526.68 283.77,533.24 284.03,538.85C284.26,543.65 284.42,548.86 284.77,552.21C284.97,554.25 285.22,557.11 285.50,557.10C286.03,557.09 286.76,544.76 287.50,539.40C288.12,534.92 288.36,530.09 289.50,527.10C290.24,525.17 291.40,522.77 292.30,522.70C292.99,522.65 293.75,523.92 294.30,525.00C295.18,526.71 295.57,529.75 296.10,532.50C296.74,535.80 297.28,543.52 297.70,543.50C298.35,543.47 298.41,524.40 298.80,516.20C299.12,509.46 299.13,497.87 299.80,497.80C300.14,497.76 300.61,502.49 301.10,502.50C301.63,502.51 302.33,499.06 302.90,497.10C303.57,494.82 303.90,489.85 304.80,489.60C305.31,489.46 306.01,490.50 306.60,491.40C307.68,493.05 308.97,495.76 309.70,499.40C311.12,506.43 310.19,522.35 310.60,531.40C310.90,538.08 310.84,545.61 311.70,548.80C312.05,550.10 312.52,551.40 313.00,551.40C313.60,551.40 314.44,549.18 315.00,547.40C315.98,544.31 316.12,536.81 317.00,534.10C317.42,532.81 317.92,531.37 318.40,531.40C319.05,531.44 319.90,535.03 320.40,536.70C320.83,538.14 321.04,540.82 321.30,540.80C321.90,540.75 321.97,525.21 322.40,518.00C322.78,511.48 322.10,500.51 323.70,499.40C324.24,499.03 325.14,500.31 325.70,500.00C326.76,499.41 326.96,494.10 327.70,492.70C328.05,492.03 328.47,491.32 328.80,491.40C329.52,491.59 329.92,496.73 330.40,499.40C330.88,502.06 331.20,504.80 331.70,507.40C332.18,509.90 332.42,514.38 333.30,514.70C333.77,514.87 334.54,514.11 335.00,513.40C335.78,512.20 335.90,509.45 336.40,507.40C336.93,505.23 337.63,500.67 338.10,500.70C338.69,500.74 339.01,507.16 339.40,511.40C339.96,517.55 340.23,529.18 340.80,534.10C341.08,536.49 340.99,538.28 341.70,539.40C342.18,540.16 343.12,540.09 343.70,540.80C344.54,541.82 345.15,545.48 345.70,545.40C346.62,545.27 346.97,536.49 347.50,531.40C348.13,525.33 348.44,517.55 349.10,511.40C349.67,506.12 349.83,499.25 351.10,496.70C351.65,495.59 352.38,494.86 353.10,494.70C353.73,494.56 354.56,494.68 355.10,495.40C356.87,497.75 355.98,510.14 356.40,518.00C356.85,526.55 356.32,540.04 357.70,544.80C358.25,546.70 359.26,548.48 359.80,548.50C360.11,548.51 360.35,547.85 360.56,547.34C360.91,546.52 361.10,545.20 361.33,543.94C361.62,542.36 361.85,540.48 362.09,538.58C362.36,536.43 362.61,534.06 362.85,531.69C363.12,529.16 363.37,526.49 363.62,523.84C363.88,521.14 364.12,518.36 364.38,515.66C364.63,513.01 364.88,510.34 365.15,507.81C365.39,505.44 365.64,503.07 365.91,500.92C366.15,499.02 366.38,497.14 366.67,495.56C366.90,494.30 367.09,492.98 367.44,492.16C367.65,491.65 367.99,490.96 368.20,491.00C368.55,491.07 368.71,493.10 368.92,494.60C369.25,497.07 369.41,500.91 369.63,504.45C369.89,508.58 370.11,513.42 370.35,517.90C370.59,522.38 370.81,527.22 371.07,531.35C371.29,534.89 371.45,538.73 371.78,541.20C371.99,542.70 372.18,544.75 372.50,544.80C372.71,544.83 373.02,544.03 373.23,543.43C373.57,542.47 373.74,540.94 373.96,539.46C374.24,537.63 374.46,535.46 374.69,533.28C374.95,530.83 375.18,528.15 375.42,525.49C375.67,522.68 375.91,519.73 376.15,516.85C376.39,513.97 376.63,511.02 376.88,508.21C377.12,505.55 377.35,502.87 377.61,500.42C377.84,498.24 378.06,496.07 378.34,494.24C378.56,492.76 378.73,491.23 379.07,490.27C379.28,489.67 379.59,488.87 379.80,488.90C380.11,488.94 380.33,490.66 380.54,491.94C380.89,494.05 381.06,497.36 381.29,500.46C381.56,504.18 381.79,508.56 382.03,512.77C382.28,517.20 382.52,522.00 382.77,526.43C383.01,530.64 383.24,535.02 383.51,538.74C383.74,541.84 383.91,545.15 384.26,547.26C384.47,548.54 384.73,550.28 385.00,550.30C385.22,550.31 385.51,549.23 385.71,548.43C386.04,547.11 386.21,545.03 386.42,543.04C386.69,540.58 386.91,537.67 387.13,534.77C387.38,531.57 387.61,528.07 387.84,524.64C388.09,521.10 388.31,517.40 388.56,513.86C388.79,510.43 389.02,506.93 389.27,503.72C389.49,500.83 389.71,497.92 389.98,495.46C390.19,493.47 390.36,491.39 390.69,490.07C390.89,489.27 391.18,488.19 391.40,488.20C391.68,488.22 391.95,490.06 392.17,491.41C392.53,493.64 392.71,497.13 392.94,500.40C393.23,504.33 393.46,508.95 393.71,513.39C393.98,518.07 394.22,523.13 394.49,527.81C394.74,532.25 394.97,536.87 395.26,540.80C395.49,544.07 395.67,547.56 396.03,549.79C396.25,551.14 396.51,552.98 396.80,553.00C397.03,553.01 397.33,551.86 397.54,551.01C397.89,549.61 398.06,547.40 398.29,545.28C398.57,542.67 398.80,539.58 399.03,536.50C399.30,533.09 399.53,529.38 399.78,525.73C400.03,521.97 400.27,518.03 400.52,514.27C400.77,510.62 401.00,506.91 401.27,503.50C401.50,500.42 401.73,497.33 402.01,494.72C402.24,492.60 402.41,490.39 402.76,488.99C402.97,488.14 403.28,486.98 403.50,487.00C403.78,487.02 404.01,488.94 404.21,490.34C404.55,492.66 404.71,496.28 404.93,499.69C405.19,503.78 405.41,508.58 405.64,513.20C405.89,518.07 406.11,523.33 406.36,528.20C406.59,532.82 406.81,537.62 407.07,541.71C407.29,545.12 407.45,548.74 407.79,551.06C407.99,552.46 408.21,554.37 408.50,554.40C408.71,554.42 409.02,553.44 409.22,552.71C409.56,551.52 409.72,549.63 409.94,547.82C410.21,545.56 410.43,542.89 410.66,540.20C410.92,537.18 411.15,533.88 411.38,530.60C411.63,527.14 411.86,523.50 412.10,519.95C412.34,516.40 412.57,512.76 412.82,509.30C413.05,506.02 413.28,502.72 413.54,499.70C413.77,497.01 413.99,494.34 414.26,492.08C414.48,490.27 414.64,488.38 414.98,487.19C415.18,486.46 415.49,485.48 415.70,485.50C416.04,485.54 416.27,488.19 416.50,490.12C416.87,493.28 417.05,498.19 417.30,502.72C417.59,508.02 417.83,514.21 418.10,519.95C418.37,525.69 418.61,531.88 418.90,537.17C419.15,541.71 419.33,546.62 419.70,549.78C419.93,551.71 420.17,554.37 420.50,554.40C420.72,554.42 421.04,553.21 421.26,552.32C421.61,550.86 421.78,548.55 422.01,546.34C422.30,543.61 422.53,540.39 422.77,537.17C423.03,533.62 423.27,529.74 423.52,525.93C423.78,522.01 424.02,517.89 424.28,513.97C424.53,510.16 424.77,506.28 425.03,502.73C425.27,499.51 425.50,496.29 425.79,493.56C426.02,491.35 426.19,489.04 426.54,487.58C426.76,486.69 427.08,485.48 427.30,485.50C427.62,485.53 427.86,488.19 428.08,490.12C428.45,493.28 428.62,498.19 428.87,502.72C429.15,508.02 429.39,514.21 429.65,519.95C429.91,525.69 430.15,531.88 430.43,537.17C430.68,541.71 430.85,546.62 431.22,549.78C431.44,551.71 431.65,554.36 432.00,554.40C432.22,554.43 432.54,553.44 432.75,552.71C433.10,551.52 433.27,549.64 433.50,547.82C433.78,545.56 434.01,542.89 434.25,540.20C434.52,537.18 434.76,533.88 435.00,530.60C435.26,527.14 435.50,523.50 435.75,519.95C436.00,516.40 436.24,512.76 436.50,509.30C436.74,506.02 436.98,502.72 437.25,499.70C437.49,497.01 437.72,494.34 438.00,492.08C438.23,490.26 438.40,488.38 438.75,487.19C438.96,486.46 439.29,485.47 439.50,485.50C439.90,485.56 440.09,489.21 440.32,491.81C440.70,496.01 440.88,502.54 441.14,508.34C441.43,514.78 441.67,522.32 441.96,528.76C442.22,534.56 442.40,541.09 442.78,545.29C443.01,547.89 443.18,551.52 443.60,551.60C443.80,551.64 444.11,550.86 444.32,550.29C444.65,549.37 444.82,547.89 445.04,546.46C445.31,544.69 445.53,542.57 445.75,540.43C446.01,538.02 446.24,535.36 446.47,532.69C446.72,529.84 446.95,526.83 447.19,523.85C447.43,520.82 447.67,517.68 447.91,514.65C448.15,511.67 448.38,508.66 448.63,505.81C448.86,503.14 449.09,500.48 449.35,498.07C449.57,495.93 449.79,493.81 450.06,492.04C450.28,490.61 450.45,489.13 450.78,488.21C450.99,487.64 451.30,486.87 451.50,486.90C451.85,486.96 452.03,489.43 452.23,491.23C452.58,494.20 452.74,498.82 452.97,503.07C453.23,508.05 453.46,513.86 453.70,519.25C453.94,524.64 454.17,530.45 454.43,535.42C454.66,539.68 454.82,544.30 455.17,547.27C455.37,549.07 455.49,551.48 455.90,551.60C456.10,551.66 456.41,551.17 456.62,550.81C456.94,550.26 457.12,549.35 457.34,548.48C457.62,547.38 457.84,546.06 458.06,544.72C458.32,543.17 458.55,541.46 458.79,539.72C459.04,537.82 459.27,535.79 459.51,533.74C459.75,531.58 459.99,529.32 460.23,527.07C460.47,524.76 460.71,522.39 460.95,520.05C461.19,517.71 461.43,515.34 461.67,513.03C461.91,510.78 462.15,508.52 462.39,506.36C462.63,504.31 462.86,502.28 463.11,500.38C463.35,498.64 463.58,496.93 463.84,495.38C464.06,494.04 464.28,492.72 464.56,491.62C464.78,490.75 464.96,489.84 465.28,489.29C465.49,488.93 465.80,488.44 466.00,488.50C466.48,488.65 466.53,492.07 466.74,494.57C467.08,498.62 467.25,504.89 467.48,510.47C467.74,516.68 467.96,523.92 468.22,530.13C468.45,535.71 468.62,541.98 468.96,546.03C469.17,548.53 469.35,552.09 469.70,552.10C470.18,552.11 471.08,544.90 471.70,540.80C472.43,535.94 473.00,529.89 473.70,524.80C474.34,520.13 474.92,515.86 475.70,511.40C476.48,506.92 477.48,502.09 478.40,498.00C479.18,494.52 480.09,488.39 480.80,488.40C481.40,488.41 481.97,492.24 482.40,495.40C483.27,501.80 483.26,515.94 483.70,524.80C484.06,532.11 484.28,539.40 484.80,544.80C485.16,548.50 485.67,554.10 486.10,554.10C486.53,554.10 486.94,548.01 487.40,544.80C487.90,541.36 488.14,537.00 489.00,534.10C489.63,531.97 490.62,528.79 491.40,528.80C492.18,528.81 493.10,532.20 493.70,534.10C494.36,536.17 494.74,540.83 495.10,540.80C495.65,540.76 495.69,530.44 496.00,524.80C496.35,518.48 496.49,509.59 497.10,504.70C497.45,501.85 497.80,498.07 498.40,498.00C498.84,497.94 499.54,501.46 500.00,501.40C500.76,501.30 500.52,492.80 501.70,491.40C502.24,490.76 503.14,490.41 503.70,490.70C504.75,491.25 505.18,494.93 505.70,498.00C506.55,502.99 506.66,511.11 507.10,518.00C507.57,525.35 507.71,534.32 508.40,540.80C508.92,545.66 509.71,553.49 510.40,553.50C511.05,553.51 511.75,545.29 512.40,542.10C512.87,539.77 513.32,536.11 513.80,536.10C514.22,536.09 514.72,539.29 515.10,540.80C515.45,542.18 515.74,544.82 516.00,544.80C516.57,544.75 516.73,531.95 517.10,524.80C517.53,516.52 517.44,502.94 518.40,498.00C518.78,496.04 519.30,495.18 519.80,494.00C520.21,493.03 520.66,492.36 521.10,491.40C521.62,490.26 522.18,487.58 522.70,487.60C523.29,487.62 523.91,490.87 524.40,492.70C524.96,494.77 525.35,499.40 525.80,499.40C526.25,499.40 526.76,492.67 527.10,492.70C527.75,492.75 527.68,510.05 528.00,518.00C528.28,525.09 528.49,532.92 528.90,538.10C529.16,541.38 529.42,546.08 529.80,546.10C530.14,546.11 530.60,542.03 531.00,540.00" stroke="#ff1f1f" stroke-width="1.6" stroke-dasharray="9,4.5"/>
</g>
<line x1="63.60" y1="559.3" x2="63.60" y2="554.3" stroke="#3c3c3c" stroke-width="1.1"/>
<line x1="63.60" y1="481.4" x2="63.60" y2="486.4" stroke="#3c3c3c" stroke-width="1.1"/>
<line x1="141.40" y1="559.3" x2="141.40" y2="554.3" stroke="#3c3c3c" stroke-width="1.1"/>
<line x1="141.40" y1="481.4" x2="141.40" y2="486.4" stroke="#3c3c3c" stroke-width="1.1"/>
<line x1="219.20" y1="559.3" x2="219.20" y2="554.3" stroke="#3c3c3c" stroke-width="1.1"/>
<line x1="219.20" y1="481.4" x2="219.20" y2="486.4" stroke="#3c3c3c" stroke-width="1.1"/>
<line x1="297.00" y1="559.3" x2="297.00" y2="554.3" stroke="#3c3c3c" stroke-width="1.1"/>
<line x1="297.00" y1="481.4" x2="297.00" y2="486.4" stroke="#3c3c3c" stroke-width="1.1"/>
<line x1="374.80" y1="559.3" x2="374.80" y2="554.3" stroke="#3c3c3c" stroke-width="1.1"/>
<line x1="374.80" y1="481.4" x2="374.80" y2="486.4" stroke="#3c3c3c" stroke-width="1.1"/>
<line x1="452.60" y1="559.3" x2="452.60" y2="554.3" stroke="#3c3c3c" stroke-width="1.1"/>
<line x1="452.60" y1="481.4" x2="452.60" y2="486.4" stroke="#3c3c3c" stroke-width="1.1"/>
<line x1="530.40" y1="559.3" x2="530.40" y2="554.3" stroke="#3c3c3c" stroke-width="1.1"/>
<line x1="530.40" y1="481.4" x2="530.40" y2="486.4" stroke="#3c3c3c" stroke-width="1.1"/>
<line x1="63.6" y1="499.4" x2="68.6" y2="499.4" stroke="#3c3c3c" stroke-width="1.1"/>
<line x1="530.4" y1="499.4" x2="525.4" y2="499.4" stroke="#3c3c3c" stroke-width="1.1"/>
<line x1="63.6" y1="520.4" x2="68.6" y2="520.4" stroke="#3c3c3c" stroke-width="1.1"/>
<line x1="530.4" y1="520.4" x2="525.4" y2="520.4" stroke="#3c3c3c" stroke-width="1.1"/>
<line x1="63.6" y1="541.4" x2="68.6" y2="541.4" stroke="#3c3c3c" stroke-width="1.1"/>
<line x1="530.4" y1="541.4" x2="525.4" y2="541.4" stroke="#3c3c3c" stroke-width="1.1"/>
<rect x="63.6" y="481.4" width="466.80" height="77.90" fill="none" stroke="#6c6c6c" stroke-width="1.7"/>
<text transform="translate(63.60,582.00) scale(1.05,1)" font-size="15.8" class="tk" text-anchor="middle">0</text>
<text transform="translate(141.40,582.00) scale(1.05,1)" font-size="15.8" class="tk" text-anchor="middle">0.05</text>
<text transform="translate(219.20,582.00) scale(1.05,1)" font-size="15.8" class="tk" text-anchor="middle">0.1</text>
<text transform="translate(297.00,582.00) scale(1.05,1)" font-size="15.8" class="tk" text-anchor="middle">0.15</text>
<text transform="translate(374.80,582.00) scale(1.05,1)" font-size="15.8" class="tk" text-anchor="middle">0.2</text>
<text transform="translate(452.60,582.00) scale(1.05,1)" font-size="15.8" class="tk" text-anchor="middle">0.25</text>
<text transform="translate(530.40,582.00) scale(1.05,1)" font-size="15.8" class="tk" text-anchor="middle">0.3</text>
<text transform="translate(56.40,505.40) scale(1.05,1)" font-size="15.8" class="tk" text-anchor="end">100</text>
<text transform="translate(56.40,526.40) scale(1.05,1)" font-size="15.8" class="tk" text-anchor="end">0</text>
<text transform="translate(56.40,547.40) scale(1.05,1)" font-size="15.8" class="tk" text-anchor="end">-100</text>
<text x="297.00" y="602.2" class="lab" text-anchor="middle">t</text>
<text transform="translate(17.80,520.4) rotate(-90) scale(1.2,1)" class="labx" text-anchor="middle">x</text>
<text x="303.1" y="629.9" class="cap" text-anchor="middle">(<tspan font-weight="normal">d</tspan>)</text>
</svg>
</body></html>
